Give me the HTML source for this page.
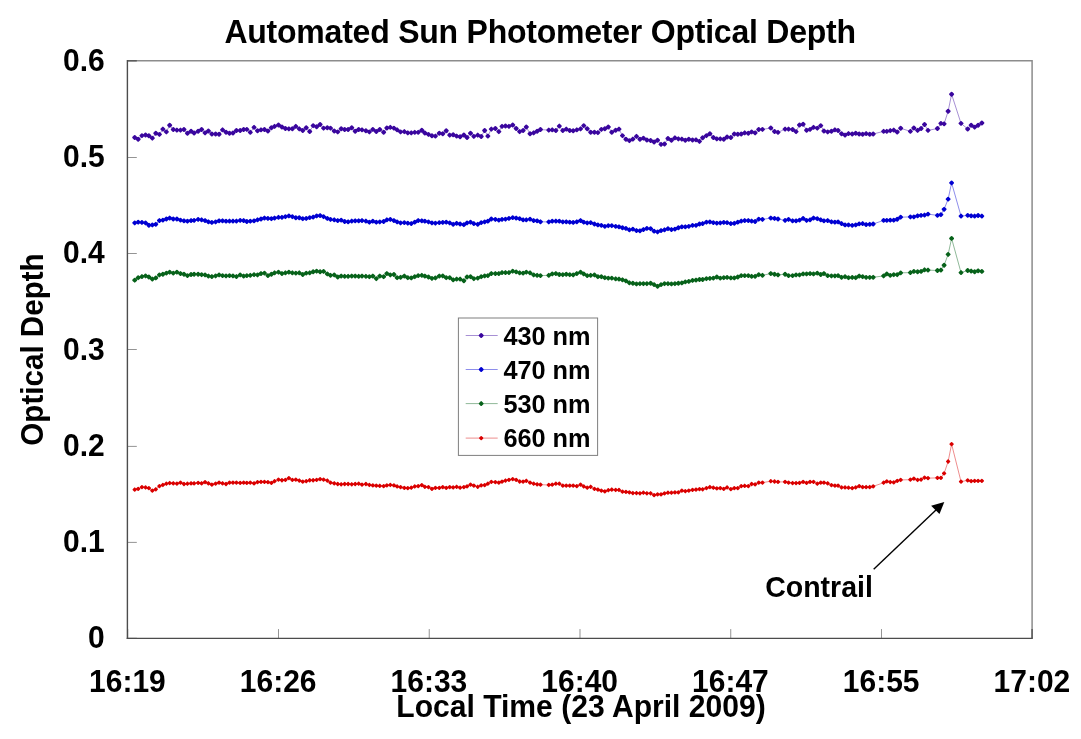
<!DOCTYPE html>
<html><head><meta charset="utf-8"><title>Automated Sun Photometer Optical Depth</title>
<style>html,body{margin:0;padding:0;background:#fff;}svg{display:block;will-change:transform;}text{font-family:"Liberation Sans",sans-serif;font-weight:bold;fill:#000;}</style></head><body>
<svg width="1081" height="739" viewBox="0 0 1081 739">
<rect x="0" y="0" width="1081" height="739" fill="#fff"/>
<path d="M127.4 60.63H1032.1V638.25" fill="none" stroke="#8c8c8c" stroke-width="1.5"/>
<path d="M127.4 638.25h9.4M127.4 542.40h9.4M127.4 446.40h9.4M127.4 349.50h9.4M127.4 253.50h9.4M127.4 157.50h9.4M127.74 638.25v-9.2M278.49 638.25v-9.2M429.24 638.25v-9.2M579.99 638.25v-9.2M730.74 638.25v-9.2M881.49 638.25v-9.2" fill="none" stroke="#8e8e8e" stroke-width="0.95"/>
<path d="M127.4 60.63h9.4M1032.1 638.25v-9.2" fill="none" stroke="#5c5c5c" stroke-width="1.5"/>
<path d="M127.4 59.93V639.05" fill="none" stroke="#4c4c4c" stroke-width="1.4"/>
<path d="M126.7 638.45H1032.8" fill="none" stroke="#4c4c4c" stroke-width="1.2"/>
<path d="M134.71 137.47L138.18 139.27L141.93 135.66L145.54 134.97L148.87 135.8L152.34 138.16L155.8 133.3L159.41 134.41L162.88 129.14L166.35 131.91L169.68 125.25L173.29 129.56L176.9 130.11L180.5 130.11L183.97 129.56L187.44 133.3L191.05 131.22L194.1 133.02L198.13 131.22L201.6 129.56L205.06 132.89L208.4 130.94L211.86 134.0L215.61 134.0L219.08 134.27L222.55 129.83L226.02 132.19L229.49 133.3L232.96 133.02L236.42 130.53L240.17 130.53L243.64 129.56L246.83 129.42L250.3 132.33L254.05 127.34L257.52 130.8L260.99 129.83L264.45 129.56L267.92 130.94L271.39 127.75L274.58 126.36L278.47 124.98L281.94 127.06L285.41 128.45L288.88 128.86L292.35 128.72L295.81 126.36L299.28 128.86L302.75 130.53L306.22 127.75L309.69 131.5L313.16 125.67L316.63 126.78L320.1 124.56L323.57 128.17L327.31 127.75L330.5 128.17L334.25 130.94L337.72 131.91L341.19 128.72L344.66 129.56L348.13 129.56L351.73 127.75L355.2 131.22L358.67 129.56L362.0 129.83L365.89 130.8L369.36 131.91L372.83 129.42L376.3 131.5L379.76 129.56L383.65 132.19L386.84 128.03L390.31 127.34L393.92 128.17L397.11 129.83L400.58 131.91L404.32 131.64L407.79 132.89L411.26 132.89L414.73 132.33L418.2 132.33L421.81 130.25L424.86 133.02L428.47 134.41L431.94 135.8L435.41 136.08L439.29 133.3L442.76 133.72L446.23 130.8L449.7 135.11L453.17 134.69L456.64 136.08L460.11 136.77L463.85 134.97L467.04 137.47L470.51 133.3L473.84 136.36L477.73 135.11L481.2 136.49L484.67 130.53L487.86 136.08L491.33 129.14L495.35 128.45L498.82 131.64L502.01 126.36L505.48 125.95L508.95 126.36L512.7 124.98L516.17 128.45L519.63 131.64L523.1 130.53L526.3 127.06L530.04 133.72L533.65 132.89L537.12 131.22L540.45 129.56L548.77 130.11L552.24 129.83L555.85 130.53L559.32 126.09L562.79 130.53L566.26 129.14L569.73 130.53L573.2 130.8L576.8 129.83L580.55 128.86L583.74 125.67L587.21 128.72L590.68 132.19L594.43 132.19L597.9 132.61L601.36 129.42L604.83 128.72L608.3 127.06L611.77 132.19L615.66 130.25L618.99 129.14L622.46 135.66L625.93 139.27L629.39 140.66L632.86 139.13L636.47 136.36L639.94 139.27L643.41 138.16L646.88 139.96L650.62 140.52L654.09 142.04L657.56 140.24L661.03 144.4L664.5 143.99L667.97 138.44L671.44 140.24L674.91 137.88L678.38 138.85L681.85 139.13L685.31 140.24L688.78 139.27L692.53 139.96L696.0 139.82L699.47 141.35L702.66 137.74L706.41 135.66L709.88 133.72L713.34 137.47L716.81 138.85L720.28 138.85L723.75 139.27L727.08 137.05L730.83 137.47L734.3 134.0L737.77 134.27L741.23 134.0L744.7 132.89L748.31 133.3L751.64 131.91L755.11 132.89L758.72 129.56L762.47 129.42L770.79 128.03L774.54 131.5L778.01 132.33L785.08 129.14L788.55 129.14L792.58 129.56L796.05 131.64L799.51 124.98L803.12 124.28L806.59 130.25L810.06 129.42L813.53 127.34L817.28 128.17L820.74 125.67L823.94 130.94L827.68 131.91L831.43 131.22L834.9 129.83L838.09 130.53L841.56 133.72L845.03 135.11L848.5 133.58L852.24 134.0L855.71 133.3L859.18 134.0L862.65 134.27L866.12 133.58L869.73 134.27L873.2 134.0L883.6 131.33L886.79 131.33L890.26 130.64L893.73 130.08L897.2 132.03L900.67 128.28L910.38 131.33L913.85 128.0L917.6 130.36L921.07 128.56L924.54 124.53L928.01 130.36L937.44 128.56L940.91 123.42L944.1 123.84L948.13 111.21L951.6 94.28L961.03 123.42L967.69 128.97L971.16 125.23L974.63 127.17L978.1 125.23L981.85 123.01" fill="none" stroke="#3a069e" stroke-width="0.6" stroke-opacity="0.75"/>
<path d="M133.21 137.47L134.71 135.97L136.21 137.47L134.71 138.97ZM136.68 139.27L138.18 137.77L139.68 139.27L138.18 140.77ZM140.43 135.66L141.93 134.16L143.43 135.66L141.93 137.16ZM144.04 134.97L145.54 133.47L147.04 134.97L145.54 136.47ZM147.37 135.80L148.87 134.30L150.37 135.80L148.87 137.30ZM150.84 138.16L152.34 136.66L153.84 138.16L152.34 139.66ZM154.30 133.30L155.80 131.80L157.30 133.30L155.80 134.80ZM157.91 134.41L159.41 132.91L160.91 134.41L159.41 135.91ZM161.38 129.14L162.88 127.64L164.38 129.14L162.88 130.64ZM164.85 131.91L166.35 130.41L167.85 131.91L166.35 133.41ZM168.18 125.25L169.68 123.75L171.18 125.25L169.68 126.75ZM171.79 129.56L173.29 128.06L174.79 129.56L173.29 131.06ZM175.40 130.11L176.90 128.61L178.40 130.11L176.90 131.61ZM179.00 130.11L180.50 128.61L182.00 130.11L180.50 131.61ZM182.47 129.56L183.97 128.06L185.47 129.56L183.97 131.06ZM185.94 133.30L187.44 131.80L188.94 133.30L187.44 134.80ZM189.55 131.22L191.05 129.72L192.55 131.22L191.05 132.72ZM192.60 133.02L194.10 131.52L195.60 133.02L194.10 134.52ZM196.63 131.22L198.13 129.72L199.63 131.22L198.13 132.72ZM200.10 129.56L201.60 128.06L203.10 129.56L201.60 131.06ZM203.56 132.89L205.06 131.39L206.56 132.89L205.06 134.39ZM206.90 130.94L208.40 129.44L209.90 130.94L208.40 132.44ZM210.36 134.00L211.86 132.50L213.36 134.00L211.86 135.50ZM214.11 134.00L215.61 132.50L217.11 134.00L215.61 135.50ZM217.58 134.27L219.08 132.77L220.58 134.27L219.08 135.77ZM221.05 129.83L222.55 128.33L224.05 129.83L222.55 131.33ZM224.52 132.19L226.02 130.69L227.52 132.19L226.02 133.69ZM227.99 133.30L229.49 131.80L230.99 133.30L229.49 134.80ZM231.46 133.02L232.96 131.52L234.46 133.02L232.96 134.52ZM234.92 130.53L236.42 129.03L237.92 130.53L236.42 132.03ZM238.67 130.53L240.17 129.03L241.67 130.53L240.17 132.03ZM242.14 129.56L243.64 128.06L245.14 129.56L243.64 131.06ZM245.33 129.42L246.83 127.92L248.33 129.42L246.83 130.92ZM248.80 132.33L250.30 130.83L251.80 132.33L250.30 133.83ZM252.55 127.34L254.05 125.84L255.55 127.34L254.05 128.84ZM256.02 130.80L257.52 129.30L259.02 130.80L257.52 132.30ZM259.49 129.83L260.99 128.33L262.49 129.83L260.99 131.33ZM262.95 129.56L264.45 128.06L265.95 129.56L264.45 131.06ZM266.42 130.94L267.92 129.44L269.42 130.94L267.92 132.44ZM269.89 127.75L271.39 126.25L272.89 127.75L271.39 129.25ZM273.08 126.36L274.58 124.86L276.08 126.36L274.58 127.86ZM276.97 124.98L278.47 123.48L279.97 124.98L278.47 126.48ZM280.44 127.06L281.94 125.56L283.44 127.06L281.94 128.56ZM283.91 128.45L285.41 126.95L286.91 128.45L285.41 129.95ZM287.38 128.86L288.88 127.36L290.38 128.86L288.88 130.36ZM290.85 128.72L292.35 127.22L293.85 128.72L292.35 130.22ZM294.31 126.36L295.81 124.86L297.31 126.36L295.81 127.86ZM297.78 128.86L299.28 127.36L300.78 128.86L299.28 130.36ZM301.25 130.53L302.75 129.03L304.25 130.53L302.75 132.03ZM304.72 127.75L306.22 126.25L307.72 127.75L306.22 129.25ZM308.19 131.50L309.69 130.00L311.19 131.50L309.69 133.00ZM311.66 125.67L313.16 124.17L314.66 125.67L313.16 127.17ZM315.13 126.78L316.63 125.28L318.13 126.78L316.63 128.28ZM318.60 124.56L320.10 123.06L321.60 124.56L320.10 126.06ZM322.07 128.17L323.57 126.67L325.07 128.17L323.57 129.67ZM325.81 127.75L327.31 126.25L328.81 127.75L327.31 129.25ZM329.00 128.17L330.50 126.67L332.00 128.17L330.50 129.67ZM332.75 130.94L334.25 129.44L335.75 130.94L334.25 132.44ZM336.22 131.91L337.72 130.41L339.22 131.91L337.72 133.41ZM339.69 128.72L341.19 127.22L342.69 128.72L341.19 130.22ZM343.16 129.56L344.66 128.06L346.16 129.56L344.66 131.06ZM346.63 129.56L348.13 128.06L349.63 129.56L348.13 131.06ZM350.23 127.75L351.73 126.25L353.23 127.75L351.73 129.25ZM353.70 131.22L355.20 129.72L356.70 131.22L355.20 132.72ZM357.17 129.56L358.67 128.06L360.17 129.56L358.67 131.06ZM360.50 129.83L362.00 128.33L363.50 129.83L362.00 131.33ZM364.39 130.80L365.89 129.30L367.39 130.80L365.89 132.30ZM367.86 131.91L369.36 130.41L370.86 131.91L369.36 133.41ZM371.33 129.42L372.83 127.92L374.33 129.42L372.83 130.92ZM374.80 131.50L376.30 130.00L377.80 131.50L376.30 133.00ZM378.26 129.56L379.76 128.06L381.26 129.56L379.76 131.06ZM382.15 132.19L383.65 130.69L385.15 132.19L383.65 133.69ZM385.34 128.03L386.84 126.53L388.34 128.03L386.84 129.53ZM388.81 127.34L390.31 125.84L391.81 127.34L390.31 128.84ZM392.42 128.17L393.92 126.67L395.42 128.17L393.92 129.67ZM395.61 129.83L397.11 128.33L398.61 129.83L397.11 131.33ZM399.08 131.91L400.58 130.41L402.08 131.91L400.58 133.41ZM402.82 131.64L404.32 130.14L405.82 131.64L404.32 133.14ZM406.29 132.89L407.79 131.39L409.29 132.89L407.79 134.39ZM409.76 132.89L411.26 131.39L412.76 132.89L411.26 134.39ZM413.23 132.33L414.73 130.83L416.23 132.33L414.73 133.83ZM416.70 132.33L418.20 130.83L419.70 132.33L418.20 133.83ZM420.31 130.25L421.81 128.75L423.31 130.25L421.81 131.75ZM423.36 133.02L424.86 131.52L426.36 133.02L424.86 134.52ZM426.97 134.41L428.47 132.91L429.97 134.41L428.47 135.91ZM430.44 135.80L431.94 134.30L433.44 135.80L431.94 137.30ZM433.91 136.08L435.41 134.58L436.91 136.08L435.41 137.58ZM437.79 133.30L439.29 131.80L440.79 133.30L439.29 134.80ZM441.26 133.72L442.76 132.22L444.26 133.72L442.76 135.22ZM444.73 130.80L446.23 129.30L447.73 130.80L446.23 132.30ZM448.20 135.11L449.70 133.61L451.20 135.11L449.70 136.61ZM451.67 134.69L453.17 133.19L454.67 134.69L453.17 136.19ZM455.14 136.08L456.64 134.58L458.14 136.08L456.64 137.58ZM458.61 136.77L460.11 135.27L461.61 136.77L460.11 138.27ZM462.35 134.97L463.85 133.47L465.35 134.97L463.85 136.47ZM465.54 137.47L467.04 135.97L468.54 137.47L467.04 138.97ZM469.01 133.30L470.51 131.80L472.01 133.30L470.51 134.80ZM472.34 136.36L473.84 134.86L475.34 136.36L473.84 137.86ZM476.23 135.11L477.73 133.61L479.23 135.11L477.73 136.61ZM479.70 136.49L481.20 134.99L482.70 136.49L481.20 137.99ZM483.17 130.53L484.67 129.03L486.17 130.53L484.67 132.03ZM486.36 136.08L487.86 134.58L489.36 136.08L487.86 137.58ZM489.83 129.14L491.33 127.64L492.83 129.14L491.33 130.64ZM493.85 128.45L495.35 126.95L496.85 128.45L495.35 129.95ZM497.32 131.64L498.82 130.14L500.32 131.64L498.82 133.14ZM500.51 126.36L502.01 124.86L503.51 126.36L502.01 127.86ZM503.98 125.95L505.48 124.45L506.98 125.95L505.48 127.45ZM507.45 126.36L508.95 124.86L510.45 126.36L508.95 127.86ZM511.20 124.98L512.70 123.48L514.20 124.98L512.70 126.48ZM514.67 128.45L516.17 126.95L517.67 128.45L516.17 129.95ZM518.13 131.64L519.63 130.14L521.13 131.64L519.63 133.14ZM521.60 130.53L523.10 129.03L524.60 130.53L523.10 132.03ZM524.80 127.06L526.30 125.56L527.80 127.06L526.30 128.56ZM528.54 133.72L530.04 132.22L531.54 133.72L530.04 135.22ZM532.15 132.89L533.65 131.39L535.15 132.89L533.65 134.39ZM535.62 131.22L537.12 129.72L538.62 131.22L537.12 132.72ZM538.95 129.56L540.45 128.06L541.95 129.56L540.45 131.06ZM547.27 130.11L548.77 128.61L550.27 130.11L548.77 131.61ZM550.74 129.83L552.24 128.33L553.74 129.83L552.24 131.33ZM554.35 130.53L555.85 129.03L557.35 130.53L555.85 132.03ZM557.82 126.09L559.32 124.59L560.82 126.09L559.32 127.59ZM561.29 130.53L562.79 129.03L564.29 130.53L562.79 132.03ZM564.76 129.14L566.26 127.64L567.76 129.14L566.26 130.64ZM568.23 130.53L569.73 129.03L571.23 130.53L569.73 132.03ZM571.70 130.80L573.20 129.30L574.70 130.80L573.20 132.30ZM575.30 129.83L576.80 128.33L578.30 129.83L576.80 131.33ZM579.05 128.86L580.55 127.36L582.05 128.86L580.55 130.36ZM582.24 125.67L583.74 124.17L585.24 125.67L583.74 127.17ZM585.71 128.72L587.21 127.22L588.71 128.72L587.21 130.22ZM589.18 132.19L590.68 130.69L592.18 132.19L590.68 133.69ZM592.93 132.19L594.43 130.69L595.93 132.19L594.43 133.69ZM596.40 132.61L597.90 131.11L599.40 132.61L597.90 134.11ZM599.86 129.42L601.36 127.92L602.86 129.42L601.36 130.92ZM603.33 128.72L604.83 127.22L606.33 128.72L604.83 130.22ZM606.80 127.06L608.30 125.56L609.80 127.06L608.30 128.56ZM610.27 132.19L611.77 130.69L613.27 132.19L611.77 133.69ZM614.16 130.25L615.66 128.75L617.16 130.25L615.66 131.75ZM617.49 129.14L618.99 127.64L620.49 129.14L618.99 130.64ZM620.96 135.66L622.46 134.16L623.96 135.66L622.46 137.16ZM624.43 139.27L625.93 137.77L627.43 139.27L625.93 140.77ZM627.89 140.66L629.39 139.16L630.89 140.66L629.39 142.16ZM631.36 139.13L632.86 137.63L634.36 139.13L632.86 140.63ZM634.97 136.36L636.47 134.86L637.97 136.36L636.47 137.86ZM638.44 139.27L639.94 137.77L641.44 139.27L639.94 140.77ZM641.91 138.16L643.41 136.66L644.91 138.16L643.41 139.66ZM645.38 139.96L646.88 138.46L648.38 139.96L646.88 141.46ZM649.12 140.52L650.62 139.02L652.12 140.52L650.62 142.02ZM652.59 142.04L654.09 140.54L655.59 142.04L654.09 143.54ZM656.06 140.24L657.56 138.74L659.06 140.24L657.56 141.74ZM659.53 144.40L661.03 142.90L662.53 144.40L661.03 145.90ZM663.00 143.99L664.50 142.49L666.00 143.99L664.50 145.49ZM666.47 138.44L667.97 136.94L669.47 138.44L667.97 139.94ZM669.94 140.24L671.44 138.74L672.94 140.24L671.44 141.74ZM673.41 137.88L674.91 136.38L676.41 137.88L674.91 139.38ZM676.88 138.85L678.38 137.35L679.88 138.85L678.38 140.35ZM680.35 139.13L681.85 137.63L683.35 139.13L681.85 140.63ZM683.81 140.24L685.31 138.74L686.81 140.24L685.31 141.74ZM687.28 139.27L688.78 137.77L690.28 139.27L688.78 140.77ZM691.03 139.96L692.53 138.46L694.03 139.96L692.53 141.46ZM694.50 139.82L696.00 138.32L697.50 139.82L696.00 141.32ZM697.97 141.35L699.47 139.85L700.97 141.35L699.47 142.85ZM701.16 137.74L702.66 136.24L704.16 137.74L702.66 139.24ZM704.91 135.66L706.41 134.16L707.91 135.66L706.41 137.16ZM708.38 133.72L709.88 132.22L711.38 133.72L709.88 135.22ZM711.84 137.47L713.34 135.97L714.84 137.47L713.34 138.97ZM715.31 138.85L716.81 137.35L718.31 138.85L716.81 140.35ZM718.78 138.85L720.28 137.35L721.78 138.85L720.28 140.35ZM722.25 139.27L723.75 137.77L725.25 139.27L723.75 140.77ZM725.58 137.05L727.08 135.55L728.58 137.05L727.08 138.55ZM729.33 137.47L730.83 135.97L732.33 137.47L730.83 138.97ZM732.80 134.00L734.30 132.50L735.80 134.00L734.30 135.50ZM736.27 134.27L737.77 132.77L739.27 134.27L737.77 135.77ZM739.73 134.00L741.23 132.50L742.73 134.00L741.23 135.50ZM743.20 132.89L744.70 131.39L746.20 132.89L744.70 134.39ZM746.81 133.30L748.31 131.80L749.81 133.30L748.31 134.80ZM750.14 131.91L751.64 130.41L753.14 131.91L751.64 133.41ZM753.61 132.89L755.11 131.39L756.61 132.89L755.11 134.39ZM757.22 129.56L758.72 128.06L760.22 129.56L758.72 131.06ZM760.97 129.42L762.47 127.92L763.97 129.42L762.47 130.92ZM769.29 128.03L770.79 126.53L772.29 128.03L770.79 129.53ZM773.04 131.50L774.54 130.00L776.04 131.50L774.54 133.00ZM776.51 132.33L778.01 130.83L779.51 132.33L778.01 133.83ZM783.58 129.14L785.08 127.64L786.58 129.14L785.08 130.64ZM787.05 129.14L788.55 127.64L790.05 129.14L788.55 130.64ZM791.08 129.56L792.58 128.06L794.08 129.56L792.58 131.06ZM794.55 131.64L796.05 130.14L797.55 131.64L796.05 133.14ZM798.01 124.98L799.51 123.48L801.01 124.98L799.51 126.48ZM801.62 124.28L803.12 122.78L804.62 124.28L803.12 125.78ZM805.09 130.25L806.59 128.75L808.09 130.25L806.59 131.75ZM808.56 129.42L810.06 127.92L811.56 129.42L810.06 130.92ZM812.03 127.34L813.53 125.84L815.03 127.34L813.53 128.84ZM815.78 128.17L817.28 126.67L818.78 128.17L817.28 129.67ZM819.24 125.67L820.74 124.17L822.24 125.67L820.74 127.17ZM822.44 130.94L823.94 129.44L825.44 130.94L823.94 132.44ZM826.18 131.91L827.68 130.41L829.18 131.91L827.68 133.41ZM829.93 131.22L831.43 129.72L832.93 131.22L831.43 132.72ZM833.40 129.83L834.90 128.33L836.40 129.83L834.90 131.33ZM836.59 130.53L838.09 129.03L839.59 130.53L838.09 132.03ZM840.06 133.72L841.56 132.22L843.06 133.72L841.56 135.22ZM843.53 135.11L845.03 133.61L846.53 135.11L845.03 136.61ZM847.00 133.58L848.50 132.08L850.00 133.58L848.50 135.08ZM850.74 134.00L852.24 132.50L853.74 134.00L852.24 135.50ZM854.21 133.30L855.71 131.80L857.21 133.30L855.71 134.80ZM857.68 134.00L859.18 132.50L860.68 134.00L859.18 135.50ZM861.15 134.27L862.65 132.77L864.15 134.27L862.65 135.77ZM864.62 133.58L866.12 132.08L867.62 133.58L866.12 135.08ZM868.23 134.27L869.73 132.77L871.23 134.27L869.73 135.77ZM871.70 134.00L873.20 132.50L874.70 134.00L873.20 135.50ZM882.10 131.33L883.60 129.83L885.10 131.33L883.60 132.83ZM885.29 131.33L886.79 129.83L888.29 131.33L886.79 132.83ZM888.76 130.64L890.26 129.14L891.76 130.64L890.26 132.14ZM892.23 130.08L893.73 128.58L895.23 130.08L893.73 131.58ZM895.70 132.03L897.20 130.53L898.70 132.03L897.20 133.53ZM899.17 128.28L900.67 126.78L902.17 128.28L900.67 129.78ZM908.88 131.33L910.38 129.83L911.88 131.33L910.38 132.83ZM912.35 128.00L913.85 126.50L915.35 128.00L913.85 129.50ZM916.10 130.36L917.60 128.86L919.10 130.36L917.60 131.86ZM919.57 128.56L921.07 127.06L922.57 128.56L921.07 130.06ZM923.04 124.53L924.54 123.03L926.04 124.53L924.54 126.03ZM926.51 130.36L928.01 128.86L929.51 130.36L928.01 131.86ZM935.94 128.56L937.44 127.06L938.94 128.56L937.44 130.06ZM939.41 123.42L940.91 121.92L942.41 123.42L940.91 124.92ZM942.60 123.84L944.10 122.34L945.60 123.84L944.10 125.34ZM946.63 111.21L948.13 109.71L949.63 111.21L948.13 112.71ZM950.10 94.28L951.60 92.78L953.10 94.28L951.60 95.78ZM959.53 123.42L961.03 121.92L962.53 123.42L961.03 124.92ZM966.19 128.97L967.69 127.47L969.19 128.97L967.69 130.47ZM969.66 125.23L971.16 123.73L972.66 125.23L971.16 126.73ZM973.13 127.17L974.63 125.67L976.13 127.17L974.63 128.67ZM976.60 125.23L978.10 123.73L979.60 125.23L978.10 126.73ZM980.35 123.01L981.85 121.51L983.35 123.01L981.85 124.51Z" fill="#3a069e" stroke="#3a069e" stroke-width="1.95" stroke-linejoin="round"/>
<path d="M134.71 222.9L138.18 222.2L141.93 222.48L145.54 222.9L148.87 225.25L152.34 224.98L155.8 224.28L159.41 220.54L162.88 220.12L166.35 219.01L169.68 218.04L173.29 219.01L176.9 219.01L180.5 220.12L183.97 220.81L187.44 221.23L191.05 220.54L194.1 220.4L198.13 219.43L201.6 219.84L205.06 220.54L208.4 221.79L211.86 222.48L215.61 221.92L219.08 220.81L222.55 220.81L226.02 221.23L229.49 221.09L232.96 221.09L236.42 221.09L240.17 220.4L243.64 220.54L246.83 221.51L250.3 221.23L254.05 220.81L257.52 219.84L260.99 219.01L264.45 218.04L267.92 218.46L271.39 218.73L274.58 218.04L278.47 217.35L281.94 217.35L285.41 216.65L288.88 215.96L292.35 216.65L295.81 217.76L299.28 217.76L302.75 218.73L306.22 218.46L309.69 217.62L313.16 217.07L316.63 215.96L320.1 215.54L323.57 216.65L327.31 218.46L330.5 219.43L334.25 219.84L337.72 220.54L341.19 220.12L344.66 221.51L348.13 221.79L351.73 221.09L355.2 220.81L358.67 220.81L362.0 220.54L365.89 221.09L369.36 222.2L372.83 221.23L376.3 222.2L379.76 221.92L383.65 221.51L386.84 219.84L390.31 219.43L393.92 220.54L397.11 221.92L400.58 222.9L404.32 222.62L407.79 223.17L411.26 223.59L414.73 222.2L418.2 220.54L421.81 220.81L424.86 221.23L428.47 221.92L431.94 222.9L435.41 223.17L439.29 222.62L442.76 222.48L446.23 222.2L449.7 222.9L453.17 224.28L456.64 223.31L460.11 224.01L463.85 224.7L467.04 222.9L470.51 222.2L473.84 223.59L477.73 224.28L481.2 222.62L484.67 221.92L487.86 221.23L491.33 219.01L495.35 219.43L498.82 220.12L502.01 219.43L505.48 219.15L508.95 218.46L512.7 217.62L516.17 218.04L519.63 218.73L523.1 219.84L526.3 219.84L530.04 219.15L533.65 220.54L537.12 220.81L540.45 221.79L548.77 221.92L552.24 221.23L555.85 221.09L559.32 221.23L562.79 221.92L566.26 221.79L569.73 222.2L573.2 222.48L576.8 221.79L580.55 220.54L583.74 222.2L587.21 222.9L590.68 222.62L594.43 224.01L597.9 224.98L601.36 225.39L604.83 226.36L608.3 225.67L611.77 225.67L615.66 226.36L618.99 226.78L622.46 227.75L625.93 228.45L629.39 229.83L632.86 229.14L636.47 230.53L639.94 230.8L643.41 229.56L646.88 228.45L650.62 228.72L654.09 231.22L657.56 231.91L661.03 230.53L664.5 229.83L667.97 228.72L671.44 229.56L674.91 229.14L678.38 227.75L681.85 226.78L685.31 226.78L688.78 226.36L692.53 225.39L696.0 225.39L699.47 224.01L702.66 223.59L706.41 222.2L709.88 221.92L713.34 222.62L716.81 223.17L720.28 222.9L723.75 222.48L727.08 222.62L730.83 223.59L734.3 223.31L737.77 222.2L741.23 221.09L744.7 220.54L748.31 220.54L751.64 221.09L755.11 221.51L758.72 219.15L762.47 219.43L770.79 218.04L774.54 218.46L778.01 219.01L785.08 220.4L788.55 219.43L792.58 220.81L796.05 220.81L799.51 220.12L803.12 218.46L806.59 220.4L810.06 219.84L813.53 218.04L817.28 218.73L820.74 219.84L823.94 220.81L827.68 220.54L831.43 221.79L834.9 222.2L838.09 221.92L841.56 223.59L845.03 224.98L848.5 224.98L852.24 225.39L855.71 224.98L859.18 223.87L862.65 223.59L866.12 224.56L869.73 224.28L873.2 224.01L883.6 220.37L886.79 220.37L890.26 220.23L893.73 220.23L897.2 219.26L900.67 217.18L910.38 216.9L913.85 216.9L917.6 215.79L921.07 215.37L924.54 215.1L928.01 214.13L937.44 215.37L940.91 214.68L944.1 209.27L948.13 199.14L951.6 182.9L961.03 216.07L967.69 215.37L971.16 215.79L974.63 216.07L978.1 215.51L981.85 216.07" fill="none" stroke="#0000d2" stroke-width="0.6" stroke-opacity="0.75"/>
<path d="M133.26 222.90L134.71 221.45L136.16 222.90L134.71 224.35ZM136.73 222.20L138.18 220.75L139.63 222.20L138.18 223.65ZM140.48 222.48L141.93 221.03L143.38 222.48L141.93 223.93ZM144.09 222.90L145.54 221.45L146.99 222.90L145.54 224.35ZM147.42 225.25L148.87 223.80L150.32 225.25L148.87 226.70ZM150.89 224.98L152.34 223.53L153.79 224.98L152.34 226.43ZM154.35 224.28L155.80 222.83L157.25 224.28L155.80 225.73ZM157.96 220.54L159.41 219.09L160.86 220.54L159.41 221.99ZM161.43 220.12L162.88 218.67L164.33 220.12L162.88 221.57ZM164.90 219.01L166.35 217.56L167.80 219.01L166.35 220.46ZM168.23 218.04L169.68 216.59L171.13 218.04L169.68 219.49ZM171.84 219.01L173.29 217.56L174.74 219.01L173.29 220.46ZM175.45 219.01L176.90 217.56L178.35 219.01L176.90 220.46ZM179.05 220.12L180.50 218.67L181.95 220.12L180.50 221.57ZM182.52 220.81L183.97 219.36L185.42 220.81L183.97 222.26ZM185.99 221.23L187.44 219.78L188.89 221.23L187.44 222.68ZM189.60 220.54L191.05 219.09L192.50 220.54L191.05 221.99ZM192.65 220.40L194.10 218.95L195.55 220.40L194.10 221.85ZM196.68 219.43L198.13 217.98L199.58 219.43L198.13 220.88ZM200.15 219.84L201.60 218.39L203.05 219.84L201.60 221.29ZM203.61 220.54L205.06 219.09L206.51 220.54L205.06 221.99ZM206.95 221.79L208.40 220.34L209.85 221.79L208.40 223.24ZM210.41 222.48L211.86 221.03L213.31 222.48L211.86 223.93ZM214.16 221.92L215.61 220.47L217.06 221.92L215.61 223.37ZM217.63 220.81L219.08 219.36L220.53 220.81L219.08 222.26ZM221.10 220.81L222.55 219.36L224.00 220.81L222.55 222.26ZM224.57 221.23L226.02 219.78L227.47 221.23L226.02 222.68ZM228.04 221.09L229.49 219.64L230.94 221.09L229.49 222.54ZM231.51 221.09L232.96 219.64L234.41 221.09L232.96 222.54ZM234.97 221.09L236.42 219.64L237.87 221.09L236.42 222.54ZM238.72 220.40L240.17 218.95L241.62 220.40L240.17 221.85ZM242.19 220.54L243.64 219.09L245.09 220.54L243.64 221.99ZM245.38 221.51L246.83 220.06L248.28 221.51L246.83 222.96ZM248.85 221.23L250.30 219.78L251.75 221.23L250.30 222.68ZM252.60 220.81L254.05 219.36L255.50 220.81L254.05 222.26ZM256.07 219.84L257.52 218.39L258.97 219.84L257.52 221.29ZM259.54 219.01L260.99 217.56L262.44 219.01L260.99 220.46ZM263.00 218.04L264.45 216.59L265.90 218.04L264.45 219.49ZM266.47 218.46L267.92 217.01L269.37 218.46L267.92 219.91ZM269.94 218.73L271.39 217.28L272.84 218.73L271.39 220.18ZM273.13 218.04L274.58 216.59L276.03 218.04L274.58 219.49ZM277.02 217.35L278.47 215.90L279.92 217.35L278.47 218.80ZM280.49 217.35L281.94 215.90L283.39 217.35L281.94 218.80ZM283.96 216.65L285.41 215.20L286.86 216.65L285.41 218.10ZM287.43 215.96L288.88 214.51L290.33 215.96L288.88 217.41ZM290.90 216.65L292.35 215.20L293.80 216.65L292.35 218.10ZM294.36 217.76L295.81 216.31L297.26 217.76L295.81 219.21ZM297.83 217.76L299.28 216.31L300.73 217.76L299.28 219.21ZM301.30 218.73L302.75 217.28L304.20 218.73L302.75 220.18ZM304.77 218.46L306.22 217.01L307.67 218.46L306.22 219.91ZM308.24 217.62L309.69 216.17L311.14 217.62L309.69 219.07ZM311.71 217.07L313.16 215.62L314.61 217.07L313.16 218.52ZM315.18 215.96L316.63 214.51L318.08 215.96L316.63 217.41ZM318.65 215.54L320.10 214.09L321.55 215.54L320.10 216.99ZM322.12 216.65L323.57 215.20L325.02 216.65L323.57 218.10ZM325.86 218.46L327.31 217.01L328.76 218.46L327.31 219.91ZM329.05 219.43L330.50 217.98L331.95 219.43L330.50 220.88ZM332.80 219.84L334.25 218.39L335.70 219.84L334.25 221.29ZM336.27 220.54L337.72 219.09L339.17 220.54L337.72 221.99ZM339.74 220.12L341.19 218.67L342.64 220.12L341.19 221.57ZM343.21 221.51L344.66 220.06L346.11 221.51L344.66 222.96ZM346.68 221.79L348.13 220.34L349.58 221.79L348.13 223.24ZM350.28 221.09L351.73 219.64L353.18 221.09L351.73 222.54ZM353.75 220.81L355.20 219.36L356.65 220.81L355.20 222.26ZM357.22 220.81L358.67 219.36L360.12 220.81L358.67 222.26ZM360.55 220.54L362.00 219.09L363.45 220.54L362.00 221.99ZM364.44 221.09L365.89 219.64L367.34 221.09L365.89 222.54ZM367.91 222.20L369.36 220.75L370.81 222.20L369.36 223.65ZM371.38 221.23L372.83 219.78L374.28 221.23L372.83 222.68ZM374.85 222.20L376.30 220.75L377.75 222.20L376.30 223.65ZM378.31 221.92L379.76 220.47L381.21 221.92L379.76 223.37ZM382.20 221.51L383.65 220.06L385.10 221.51L383.65 222.96ZM385.39 219.84L386.84 218.39L388.29 219.84L386.84 221.29ZM388.86 219.43L390.31 217.98L391.76 219.43L390.31 220.88ZM392.47 220.54L393.92 219.09L395.37 220.54L393.92 221.99ZM395.66 221.92L397.11 220.47L398.56 221.92L397.11 223.37ZM399.13 222.90L400.58 221.45L402.03 222.90L400.58 224.35ZM402.87 222.62L404.32 221.17L405.77 222.62L404.32 224.07ZM406.34 223.17L407.79 221.72L409.24 223.17L407.79 224.62ZM409.81 223.59L411.26 222.14L412.71 223.59L411.26 225.04ZM413.28 222.20L414.73 220.75L416.18 222.20L414.73 223.65ZM416.75 220.54L418.20 219.09L419.65 220.54L418.20 221.99ZM420.36 220.81L421.81 219.36L423.26 220.81L421.81 222.26ZM423.41 221.23L424.86 219.78L426.31 221.23L424.86 222.68ZM427.02 221.92L428.47 220.47L429.92 221.92L428.47 223.37ZM430.49 222.90L431.94 221.45L433.39 222.90L431.94 224.35ZM433.96 223.17L435.41 221.72L436.86 223.17L435.41 224.62ZM437.84 222.62L439.29 221.17L440.74 222.62L439.29 224.07ZM441.31 222.48L442.76 221.03L444.21 222.48L442.76 223.93ZM444.78 222.20L446.23 220.75L447.68 222.20L446.23 223.65ZM448.25 222.90L449.70 221.45L451.15 222.90L449.70 224.35ZM451.72 224.28L453.17 222.83L454.62 224.28L453.17 225.73ZM455.19 223.31L456.64 221.86L458.09 223.31L456.64 224.76ZM458.66 224.01L460.11 222.56L461.56 224.01L460.11 225.46ZM462.40 224.70L463.85 223.25L465.30 224.70L463.85 226.15ZM465.59 222.90L467.04 221.45L468.49 222.90L467.04 224.35ZM469.06 222.20L470.51 220.75L471.96 222.20L470.51 223.65ZM472.39 223.59L473.84 222.14L475.29 223.59L473.84 225.04ZM476.28 224.28L477.73 222.83L479.18 224.28L477.73 225.73ZM479.75 222.62L481.20 221.17L482.65 222.62L481.20 224.07ZM483.22 221.92L484.67 220.47L486.12 221.92L484.67 223.37ZM486.41 221.23L487.86 219.78L489.31 221.23L487.86 222.68ZM489.88 219.01L491.33 217.56L492.78 219.01L491.33 220.46ZM493.90 219.43L495.35 217.98L496.80 219.43L495.35 220.88ZM497.37 220.12L498.82 218.67L500.27 220.12L498.82 221.57ZM500.56 219.43L502.01 217.98L503.46 219.43L502.01 220.88ZM504.03 219.15L505.48 217.70L506.93 219.15L505.48 220.60ZM507.50 218.46L508.95 217.01L510.40 218.46L508.95 219.91ZM511.25 217.62L512.70 216.17L514.15 217.62L512.70 219.07ZM514.72 218.04L516.17 216.59L517.62 218.04L516.17 219.49ZM518.18 218.73L519.63 217.28L521.08 218.73L519.63 220.18ZM521.65 219.84L523.10 218.39L524.55 219.84L523.10 221.29ZM524.85 219.84L526.30 218.39L527.75 219.84L526.30 221.29ZM528.59 219.15L530.04 217.70L531.49 219.15L530.04 220.60ZM532.20 220.54L533.65 219.09L535.10 220.54L533.65 221.99ZM535.67 220.81L537.12 219.36L538.57 220.81L537.12 222.26ZM539.00 221.79L540.45 220.34L541.90 221.79L540.45 223.24ZM547.32 221.92L548.77 220.47L550.22 221.92L548.77 223.37ZM550.79 221.23L552.24 219.78L553.69 221.23L552.24 222.68ZM554.40 221.09L555.85 219.64L557.30 221.09L555.85 222.54ZM557.87 221.23L559.32 219.78L560.77 221.23L559.32 222.68ZM561.34 221.92L562.79 220.47L564.24 221.92L562.79 223.37ZM564.81 221.79L566.26 220.34L567.71 221.79L566.26 223.24ZM568.28 222.20L569.73 220.75L571.18 222.20L569.73 223.65ZM571.75 222.48L573.20 221.03L574.65 222.48L573.20 223.93ZM575.35 221.79L576.80 220.34L578.25 221.79L576.80 223.24ZM579.10 220.54L580.55 219.09L582.00 220.54L580.55 221.99ZM582.29 222.20L583.74 220.75L585.19 222.20L583.74 223.65ZM585.76 222.90L587.21 221.45L588.66 222.90L587.21 224.35ZM589.23 222.62L590.68 221.17L592.13 222.62L590.68 224.07ZM592.98 224.01L594.43 222.56L595.88 224.01L594.43 225.46ZM596.45 224.98L597.90 223.53L599.35 224.98L597.90 226.43ZM599.91 225.39L601.36 223.94L602.81 225.39L601.36 226.84ZM603.38 226.36L604.83 224.91L606.28 226.36L604.83 227.81ZM606.85 225.67L608.30 224.22L609.75 225.67L608.30 227.12ZM610.32 225.67L611.77 224.22L613.22 225.67L611.77 227.12ZM614.21 226.36L615.66 224.91L617.11 226.36L615.66 227.81ZM617.54 226.78L618.99 225.33L620.44 226.78L618.99 228.23ZM621.01 227.75L622.46 226.30L623.91 227.75L622.46 229.20ZM624.48 228.45L625.93 227.00L627.38 228.45L625.93 229.90ZM627.94 229.83L629.39 228.38L630.84 229.83L629.39 231.28ZM631.41 229.14L632.86 227.69L634.31 229.14L632.86 230.59ZM635.02 230.53L636.47 229.08L637.92 230.53L636.47 231.98ZM638.49 230.80L639.94 229.35L641.39 230.80L639.94 232.25ZM641.96 229.56L643.41 228.11L644.86 229.56L643.41 231.01ZM645.43 228.45L646.88 227.00L648.33 228.45L646.88 229.90ZM649.17 228.72L650.62 227.27L652.07 228.72L650.62 230.17ZM652.64 231.22L654.09 229.77L655.54 231.22L654.09 232.67ZM656.11 231.91L657.56 230.46L659.01 231.91L657.56 233.36ZM659.58 230.53L661.03 229.08L662.48 230.53L661.03 231.98ZM663.05 229.83L664.50 228.38L665.95 229.83L664.50 231.28ZM666.52 228.72L667.97 227.27L669.42 228.72L667.97 230.17ZM669.99 229.56L671.44 228.11L672.89 229.56L671.44 231.01ZM673.46 229.14L674.91 227.69L676.36 229.14L674.91 230.59ZM676.93 227.75L678.38 226.30L679.83 227.75L678.38 229.20ZM680.40 226.78L681.85 225.33L683.30 226.78L681.85 228.23ZM683.86 226.78L685.31 225.33L686.76 226.78L685.31 228.23ZM687.33 226.36L688.78 224.91L690.23 226.36L688.78 227.81ZM691.08 225.39L692.53 223.94L693.98 225.39L692.53 226.84ZM694.55 225.39L696.00 223.94L697.45 225.39L696.00 226.84ZM698.02 224.01L699.47 222.56L700.92 224.01L699.47 225.46ZM701.21 223.59L702.66 222.14L704.11 223.59L702.66 225.04ZM704.96 222.20L706.41 220.75L707.86 222.20L706.41 223.65ZM708.43 221.92L709.88 220.47L711.33 221.92L709.88 223.37ZM711.89 222.62L713.34 221.17L714.79 222.62L713.34 224.07ZM715.36 223.17L716.81 221.72L718.26 223.17L716.81 224.62ZM718.83 222.90L720.28 221.45L721.73 222.90L720.28 224.35ZM722.30 222.48L723.75 221.03L725.20 222.48L723.75 223.93ZM725.63 222.62L727.08 221.17L728.53 222.62L727.08 224.07ZM729.38 223.59L730.83 222.14L732.28 223.59L730.83 225.04ZM732.85 223.31L734.30 221.86L735.75 223.31L734.30 224.76ZM736.32 222.20L737.77 220.75L739.22 222.20L737.77 223.65ZM739.78 221.09L741.23 219.64L742.68 221.09L741.23 222.54ZM743.25 220.54L744.70 219.09L746.15 220.54L744.70 221.99ZM746.86 220.54L748.31 219.09L749.76 220.54L748.31 221.99ZM750.19 221.09L751.64 219.64L753.09 221.09L751.64 222.54ZM753.66 221.51L755.11 220.06L756.56 221.51L755.11 222.96ZM757.27 219.15L758.72 217.70L760.17 219.15L758.72 220.60ZM761.02 219.43L762.47 217.98L763.92 219.43L762.47 220.88ZM769.34 218.04L770.79 216.59L772.24 218.04L770.79 219.49ZM773.09 218.46L774.54 217.01L775.99 218.46L774.54 219.91ZM776.56 219.01L778.01 217.56L779.46 219.01L778.01 220.46ZM783.63 220.40L785.08 218.95L786.53 220.40L785.08 221.85ZM787.10 219.43L788.55 217.98L790.00 219.43L788.55 220.88ZM791.13 220.81L792.58 219.36L794.03 220.81L792.58 222.26ZM794.60 220.81L796.05 219.36L797.50 220.81L796.05 222.26ZM798.06 220.12L799.51 218.67L800.96 220.12L799.51 221.57ZM801.67 218.46L803.12 217.01L804.57 218.46L803.12 219.91ZM805.14 220.40L806.59 218.95L808.04 220.40L806.59 221.85ZM808.61 219.84L810.06 218.39L811.51 219.84L810.06 221.29ZM812.08 218.04L813.53 216.59L814.98 218.04L813.53 219.49ZM815.83 218.73L817.28 217.28L818.73 218.73L817.28 220.18ZM819.29 219.84L820.74 218.39L822.19 219.84L820.74 221.29ZM822.49 220.81L823.94 219.36L825.39 220.81L823.94 222.26ZM826.23 220.54L827.68 219.09L829.13 220.54L827.68 221.99ZM829.98 221.79L831.43 220.34L832.88 221.79L831.43 223.24ZM833.45 222.20L834.90 220.75L836.35 222.20L834.90 223.65ZM836.64 221.92L838.09 220.47L839.54 221.92L838.09 223.37ZM840.11 223.59L841.56 222.14L843.01 223.59L841.56 225.04ZM843.58 224.98L845.03 223.53L846.48 224.98L845.03 226.43ZM847.05 224.98L848.50 223.53L849.95 224.98L848.50 226.43ZM850.79 225.39L852.24 223.94L853.69 225.39L852.24 226.84ZM854.26 224.98L855.71 223.53L857.16 224.98L855.71 226.43ZM857.73 223.87L859.18 222.42L860.63 223.87L859.18 225.32ZM861.20 223.59L862.65 222.14L864.10 223.59L862.65 225.04ZM864.67 224.56L866.12 223.11L867.57 224.56L866.12 226.01ZM868.28 224.28L869.73 222.83L871.18 224.28L869.73 225.73ZM871.75 224.01L873.20 222.56L874.65 224.01L873.20 225.46ZM882.15 220.37L883.60 218.92L885.05 220.37L883.60 221.82ZM885.34 220.37L886.79 218.92L888.24 220.37L886.79 221.82ZM888.81 220.23L890.26 218.78L891.71 220.23L890.26 221.68ZM892.28 220.23L893.73 218.78L895.18 220.23L893.73 221.68ZM895.75 219.26L897.20 217.81L898.65 219.26L897.20 220.71ZM899.22 217.18L900.67 215.73L902.12 217.18L900.67 218.63ZM908.93 216.90L910.38 215.45L911.83 216.90L910.38 218.35ZM912.40 216.90L913.85 215.45L915.30 216.90L913.85 218.35ZM916.15 215.79L917.60 214.34L919.05 215.79L917.60 217.24ZM919.62 215.37L921.07 213.92L922.52 215.37L921.07 216.82ZM923.09 215.10L924.54 213.65L925.99 215.10L924.54 216.55ZM926.56 214.13L928.01 212.68L929.46 214.13L928.01 215.58ZM935.99 215.37L937.44 213.92L938.89 215.37L937.44 216.82ZM939.46 214.68L940.91 213.23L942.36 214.68L940.91 216.13ZM942.65 209.27L944.10 207.82L945.55 209.27L944.10 210.72ZM946.68 199.14L948.13 197.69L949.58 199.14L948.13 200.59ZM950.15 182.90L951.60 181.45L953.05 182.90L951.60 184.35ZM959.58 216.07L961.03 214.62L962.48 216.07L961.03 217.52ZM966.24 215.37L967.69 213.92L969.14 215.37L967.69 216.82ZM969.71 215.79L971.16 214.34L972.61 215.79L971.16 217.24ZM973.18 216.07L974.63 214.62L976.08 216.07L974.63 217.52ZM976.65 215.51L978.10 214.06L979.55 215.51L978.10 216.96ZM980.40 216.07L981.85 214.62L983.30 216.07L981.85 217.52Z" fill="#0000d2" stroke="#0000d2" stroke-width="1.95" stroke-linejoin="round"/>
<path d="M134.71 280.2L138.18 277.71L141.93 276.6L145.54 275.9L148.87 277.01L152.34 279.09L155.8 277.98L159.41 274.93L162.88 274.24L166.35 273.13L169.68 272.16L173.29 273.13L176.9 272.16L180.5 273.54L183.97 274.24L187.44 275.62L191.05 274.51L194.1 274.24L198.13 274.24L201.6 274.65L205.06 274.93L208.4 276.04L211.86 276.6L215.61 275.9L219.08 274.93L222.55 275.62L226.02 275.9L229.49 275.62L232.96 275.9L236.42 276.6L240.17 274.93L243.64 276.04L246.83 275.62L250.3 275.35L254.05 274.65L257.52 274.93L260.99 273.54L264.45 273.13L267.92 275.62L271.39 274.24L274.58 272.85L278.47 272.16L281.94 273.54L285.41 272.85L288.88 272.16L292.35 272.85L295.81 273.13L299.28 272.85L302.75 274.51L306.22 273.13L309.69 272.85L313.16 271.74L316.63 271.18L320.1 271.74L323.57 271.46L327.31 273.96L330.5 275.35L334.25 274.93L337.72 277.01L341.19 276.04L344.66 276.32L348.13 276.32L351.73 276.04L355.2 276.04L358.67 276.32L362.0 276.04L365.89 276.32L369.36 276.73L372.83 276.04L376.3 278.68L379.76 276.04L383.65 276.73L386.84 273.54L390.31 274.93L393.92 274.51L397.11 277.71L400.58 277.29L404.32 276.04L407.79 277.71L411.26 277.98L414.73 276.73L418.2 275.62L421.81 275.35L424.86 276.04L428.47 277.01L431.94 278.4L435.41 277.98L439.29 276.04L442.76 275.9L446.23 277.71L449.7 277.71L453.17 279.79L456.64 279.09L460.11 279.09L463.85 280.76L467.04 277.01L470.51 276.73L473.84 278.68L477.73 278.12L481.2 276.73L484.67 275.9L487.86 275.62L491.33 273.54L495.35 273.54L498.82 273.54L502.01 272.57L505.48 272.57L508.95 272.57L512.7 271.18L516.17 271.88L519.63 272.85L523.1 273.13L526.3 272.16L530.04 272.85L533.65 274.93L537.12 275.35L540.45 275.62L548.77 275.35L552.24 273.96L555.85 273.54L559.32 274.51L562.79 274.65L566.26 274.24L569.73 274.65L573.2 274.93L576.8 273.54L580.55 272.16L583.74 273.96L587.21 275.62L590.68 275.35L594.43 274.93L597.9 276.73L601.36 276.73L604.83 277.71L608.3 278.12L611.77 278.12L615.66 278.82L618.99 279.09L622.46 279.79L625.93 280.9L629.39 282.84L632.86 283.26L636.47 283.95L639.94 283.67L643.41 283.67L646.88 283.67L650.62 283.26L654.09 284.64L657.56 286.31L661.03 284.64L664.5 283.67L667.97 283.67L671.44 283.95L674.91 283.67L678.38 283.26L681.85 282.98L685.31 281.87L688.78 281.45L692.53 280.48L696.0 280.06L699.47 279.51L702.66 279.51L706.41 278.68L709.88 278.4L713.34 278.12L716.81 277.01L720.28 278.12L723.75 277.71L727.08 277.43L730.83 277.98L734.3 277.98L737.77 277.01L741.23 275.62L744.7 275.62L748.31 275.62L751.64 276.32L755.11 276.32L758.72 274.65L762.47 275.35L770.79 273.54L774.54 274.24L778.01 274.93L785.08 274.24L788.55 275.62L792.58 275.62L796.05 274.93L799.51 274.93L803.12 273.96L806.59 273.96L810.06 273.54L813.53 273.96L817.28 273.13L820.74 274.51L823.94 273.54L827.68 275.62L831.43 275.9L834.9 275.9L838.09 275.62L841.56 277.29L845.03 276.73L848.5 277.71L852.24 277.43L855.71 277.71L859.18 276.04L862.65 276.73L866.12 277.43L869.73 277.43L873.2 277.29L883.6 275.93L886.79 273.98L890.26 275.37L893.73 274.68L897.2 274.68L900.67 272.87L910.38 272.59L913.85 271.48L917.6 271.76L921.07 271.48L924.54 269.82L928.01 270.1L937.44 270.51L940.91 270.1L944.1 265.24L948.13 254.42L951.6 238.46L961.03 272.59L967.69 270.51L971.16 271.07L974.63 271.76L978.1 270.79L981.85 271.48" fill="none" stroke="#07621a" stroke-width="0.6" stroke-opacity="0.75"/>
<path d="M133.26 280.20L134.71 278.75L136.16 280.20L134.71 281.65ZM136.73 277.71L138.18 276.26L139.63 277.71L138.18 279.16ZM140.48 276.60L141.93 275.15L143.38 276.60L141.93 278.05ZM144.09 275.90L145.54 274.45L146.99 275.90L145.54 277.35ZM147.42 277.01L148.87 275.56L150.32 277.01L148.87 278.46ZM150.89 279.09L152.34 277.64L153.79 279.09L152.34 280.54ZM154.35 277.98L155.80 276.53L157.25 277.98L155.80 279.43ZM157.96 274.93L159.41 273.48L160.86 274.93L159.41 276.38ZM161.43 274.24L162.88 272.79L164.33 274.24L162.88 275.69ZM164.90 273.13L166.35 271.68L167.80 273.13L166.35 274.58ZM168.23 272.16L169.68 270.71L171.13 272.16L169.68 273.61ZM171.84 273.13L173.29 271.68L174.74 273.13L173.29 274.58ZM175.45 272.16L176.90 270.71L178.35 272.16L176.90 273.61ZM179.05 273.54L180.50 272.09L181.95 273.54L180.50 274.99ZM182.52 274.24L183.97 272.79L185.42 274.24L183.97 275.69ZM185.99 275.62L187.44 274.17L188.89 275.62L187.44 277.07ZM189.60 274.51L191.05 273.06L192.50 274.51L191.05 275.96ZM192.65 274.24L194.10 272.79L195.55 274.24L194.10 275.69ZM196.68 274.24L198.13 272.79L199.58 274.24L198.13 275.69ZM200.15 274.65L201.60 273.20L203.05 274.65L201.60 276.10ZM203.61 274.93L205.06 273.48L206.51 274.93L205.06 276.38ZM206.95 276.04L208.40 274.59L209.85 276.04L208.40 277.49ZM210.41 276.60L211.86 275.15L213.31 276.60L211.86 278.05ZM214.16 275.90L215.61 274.45L217.06 275.90L215.61 277.35ZM217.63 274.93L219.08 273.48L220.53 274.93L219.08 276.38ZM221.10 275.62L222.55 274.17L224.00 275.62L222.55 277.07ZM224.57 275.90L226.02 274.45L227.47 275.90L226.02 277.35ZM228.04 275.62L229.49 274.17L230.94 275.62L229.49 277.07ZM231.51 275.90L232.96 274.45L234.41 275.90L232.96 277.35ZM234.97 276.60L236.42 275.15L237.87 276.60L236.42 278.05ZM238.72 274.93L240.17 273.48L241.62 274.93L240.17 276.38ZM242.19 276.04L243.64 274.59L245.09 276.04L243.64 277.49ZM245.38 275.62L246.83 274.17L248.28 275.62L246.83 277.07ZM248.85 275.35L250.30 273.90L251.75 275.35L250.30 276.80ZM252.60 274.65L254.05 273.20L255.50 274.65L254.05 276.10ZM256.07 274.93L257.52 273.48L258.97 274.93L257.52 276.38ZM259.54 273.54L260.99 272.09L262.44 273.54L260.99 274.99ZM263.00 273.13L264.45 271.68L265.90 273.13L264.45 274.58ZM266.47 275.62L267.92 274.17L269.37 275.62L267.92 277.07ZM269.94 274.24L271.39 272.79L272.84 274.24L271.39 275.69ZM273.13 272.85L274.58 271.40L276.03 272.85L274.58 274.30ZM277.02 272.16L278.47 270.71L279.92 272.16L278.47 273.61ZM280.49 273.54L281.94 272.09L283.39 273.54L281.94 274.99ZM283.96 272.85L285.41 271.40L286.86 272.85L285.41 274.30ZM287.43 272.16L288.88 270.71L290.33 272.16L288.88 273.61ZM290.90 272.85L292.35 271.40L293.80 272.85L292.35 274.30ZM294.36 273.13L295.81 271.68L297.26 273.13L295.81 274.58ZM297.83 272.85L299.28 271.40L300.73 272.85L299.28 274.30ZM301.30 274.51L302.75 273.06L304.20 274.51L302.75 275.96ZM304.77 273.13L306.22 271.68L307.67 273.13L306.22 274.58ZM308.24 272.85L309.69 271.40L311.14 272.85L309.69 274.30ZM311.71 271.74L313.16 270.29L314.61 271.74L313.16 273.19ZM315.18 271.18L316.63 269.73L318.08 271.18L316.63 272.63ZM318.65 271.74L320.10 270.29L321.55 271.74L320.10 273.19ZM322.12 271.46L323.57 270.01L325.02 271.46L323.57 272.91ZM325.86 273.96L327.31 272.51L328.76 273.96L327.31 275.41ZM329.05 275.35L330.50 273.90L331.95 275.35L330.50 276.80ZM332.80 274.93L334.25 273.48L335.70 274.93L334.25 276.38ZM336.27 277.01L337.72 275.56L339.17 277.01L337.72 278.46ZM339.74 276.04L341.19 274.59L342.64 276.04L341.19 277.49ZM343.21 276.32L344.66 274.87L346.11 276.32L344.66 277.77ZM346.68 276.32L348.13 274.87L349.58 276.32L348.13 277.77ZM350.28 276.04L351.73 274.59L353.18 276.04L351.73 277.49ZM353.75 276.04L355.20 274.59L356.65 276.04L355.20 277.49ZM357.22 276.32L358.67 274.87L360.12 276.32L358.67 277.77ZM360.55 276.04L362.00 274.59L363.45 276.04L362.00 277.49ZM364.44 276.32L365.89 274.87L367.34 276.32L365.89 277.77ZM367.91 276.73L369.36 275.28L370.81 276.73L369.36 278.18ZM371.38 276.04L372.83 274.59L374.28 276.04L372.83 277.49ZM374.85 278.68L376.30 277.23L377.75 278.68L376.30 280.13ZM378.31 276.04L379.76 274.59L381.21 276.04L379.76 277.49ZM382.20 276.73L383.65 275.28L385.10 276.73L383.65 278.18ZM385.39 273.54L386.84 272.09L388.29 273.54L386.84 274.99ZM388.86 274.93L390.31 273.48L391.76 274.93L390.31 276.38ZM392.47 274.51L393.92 273.06L395.37 274.51L393.92 275.96ZM395.66 277.71L397.11 276.26L398.56 277.71L397.11 279.16ZM399.13 277.29L400.58 275.84L402.03 277.29L400.58 278.74ZM402.87 276.04L404.32 274.59L405.77 276.04L404.32 277.49ZM406.34 277.71L407.79 276.26L409.24 277.71L407.79 279.16ZM409.81 277.98L411.26 276.53L412.71 277.98L411.26 279.43ZM413.28 276.73L414.73 275.28L416.18 276.73L414.73 278.18ZM416.75 275.62L418.20 274.17L419.65 275.62L418.20 277.07ZM420.36 275.35L421.81 273.90L423.26 275.35L421.81 276.80ZM423.41 276.04L424.86 274.59L426.31 276.04L424.86 277.49ZM427.02 277.01L428.47 275.56L429.92 277.01L428.47 278.46ZM430.49 278.40L431.94 276.95L433.39 278.40L431.94 279.85ZM433.96 277.98L435.41 276.53L436.86 277.98L435.41 279.43ZM437.84 276.04L439.29 274.59L440.74 276.04L439.29 277.49ZM441.31 275.90L442.76 274.45L444.21 275.90L442.76 277.35ZM444.78 277.71L446.23 276.26L447.68 277.71L446.23 279.16ZM448.25 277.71L449.70 276.26L451.15 277.71L449.70 279.16ZM451.72 279.79L453.17 278.34L454.62 279.79L453.17 281.24ZM455.19 279.09L456.64 277.64L458.09 279.09L456.64 280.54ZM458.66 279.09L460.11 277.64L461.56 279.09L460.11 280.54ZM462.40 280.76L463.85 279.31L465.30 280.76L463.85 282.21ZM465.59 277.01L467.04 275.56L468.49 277.01L467.04 278.46ZM469.06 276.73L470.51 275.28L471.96 276.73L470.51 278.18ZM472.39 278.68L473.84 277.23L475.29 278.68L473.84 280.13ZM476.28 278.12L477.73 276.67L479.18 278.12L477.73 279.57ZM479.75 276.73L481.20 275.28L482.65 276.73L481.20 278.18ZM483.22 275.90L484.67 274.45L486.12 275.90L484.67 277.35ZM486.41 275.62L487.86 274.17L489.31 275.62L487.86 277.07ZM489.88 273.54L491.33 272.09L492.78 273.54L491.33 274.99ZM493.90 273.54L495.35 272.09L496.80 273.54L495.35 274.99ZM497.37 273.54L498.82 272.09L500.27 273.54L498.82 274.99ZM500.56 272.57L502.01 271.12L503.46 272.57L502.01 274.02ZM504.03 272.57L505.48 271.12L506.93 272.57L505.48 274.02ZM507.50 272.57L508.95 271.12L510.40 272.57L508.95 274.02ZM511.25 271.18L512.70 269.73L514.15 271.18L512.70 272.63ZM514.72 271.88L516.17 270.43L517.62 271.88L516.17 273.33ZM518.18 272.85L519.63 271.40L521.08 272.85L519.63 274.30ZM521.65 273.13L523.10 271.68L524.55 273.13L523.10 274.58ZM524.85 272.16L526.30 270.71L527.75 272.16L526.30 273.61ZM528.59 272.85L530.04 271.40L531.49 272.85L530.04 274.30ZM532.20 274.93L533.65 273.48L535.10 274.93L533.65 276.38ZM535.67 275.35L537.12 273.90L538.57 275.35L537.12 276.80ZM539.00 275.62L540.45 274.17L541.90 275.62L540.45 277.07ZM547.32 275.35L548.77 273.90L550.22 275.35L548.77 276.80ZM550.79 273.96L552.24 272.51L553.69 273.96L552.24 275.41ZM554.40 273.54L555.85 272.09L557.30 273.54L555.85 274.99ZM557.87 274.51L559.32 273.06L560.77 274.51L559.32 275.96ZM561.34 274.65L562.79 273.20L564.24 274.65L562.79 276.10ZM564.81 274.24L566.26 272.79L567.71 274.24L566.26 275.69ZM568.28 274.65L569.73 273.20L571.18 274.65L569.73 276.10ZM571.75 274.93L573.20 273.48L574.65 274.93L573.20 276.38ZM575.35 273.54L576.80 272.09L578.25 273.54L576.80 274.99ZM579.10 272.16L580.55 270.71L582.00 272.16L580.55 273.61ZM582.29 273.96L583.74 272.51L585.19 273.96L583.74 275.41ZM585.76 275.62L587.21 274.17L588.66 275.62L587.21 277.07ZM589.23 275.35L590.68 273.90L592.13 275.35L590.68 276.80ZM592.98 274.93L594.43 273.48L595.88 274.93L594.43 276.38ZM596.45 276.73L597.90 275.28L599.35 276.73L597.90 278.18ZM599.91 276.73L601.36 275.28L602.81 276.73L601.36 278.18ZM603.38 277.71L604.83 276.26L606.28 277.71L604.83 279.16ZM606.85 278.12L608.30 276.67L609.75 278.12L608.30 279.57ZM610.32 278.12L611.77 276.67L613.22 278.12L611.77 279.57ZM614.21 278.82L615.66 277.37L617.11 278.82L615.66 280.27ZM617.54 279.09L618.99 277.64L620.44 279.09L618.99 280.54ZM621.01 279.79L622.46 278.34L623.91 279.79L622.46 281.24ZM624.48 280.90L625.93 279.45L627.38 280.90L625.93 282.35ZM627.94 282.84L629.39 281.39L630.84 282.84L629.39 284.29ZM631.41 283.26L632.86 281.81L634.31 283.26L632.86 284.71ZM635.02 283.95L636.47 282.50L637.92 283.95L636.47 285.40ZM638.49 283.67L639.94 282.22L641.39 283.67L639.94 285.12ZM641.96 283.67L643.41 282.22L644.86 283.67L643.41 285.12ZM645.43 283.67L646.88 282.22L648.33 283.67L646.88 285.12ZM649.17 283.26L650.62 281.81L652.07 283.26L650.62 284.71ZM652.64 284.64L654.09 283.19L655.54 284.64L654.09 286.09ZM656.11 286.31L657.56 284.86L659.01 286.31L657.56 287.76ZM659.58 284.64L661.03 283.19L662.48 284.64L661.03 286.09ZM663.05 283.67L664.50 282.22L665.95 283.67L664.50 285.12ZM666.52 283.67L667.97 282.22L669.42 283.67L667.97 285.12ZM669.99 283.95L671.44 282.50L672.89 283.95L671.44 285.40ZM673.46 283.67L674.91 282.22L676.36 283.67L674.91 285.12ZM676.93 283.26L678.38 281.81L679.83 283.26L678.38 284.71ZM680.40 282.98L681.85 281.53L683.30 282.98L681.85 284.43ZM683.86 281.87L685.31 280.42L686.76 281.87L685.31 283.32ZM687.33 281.45L688.78 280.00L690.23 281.45L688.78 282.90ZM691.08 280.48L692.53 279.03L693.98 280.48L692.53 281.93ZM694.55 280.06L696.00 278.61L697.45 280.06L696.00 281.51ZM698.02 279.51L699.47 278.06L700.92 279.51L699.47 280.96ZM701.21 279.51L702.66 278.06L704.11 279.51L702.66 280.96ZM704.96 278.68L706.41 277.23L707.86 278.68L706.41 280.13ZM708.43 278.40L709.88 276.95L711.33 278.40L709.88 279.85ZM711.89 278.12L713.34 276.67L714.79 278.12L713.34 279.57ZM715.36 277.01L716.81 275.56L718.26 277.01L716.81 278.46ZM718.83 278.12L720.28 276.67L721.73 278.12L720.28 279.57ZM722.30 277.71L723.75 276.26L725.20 277.71L723.75 279.16ZM725.63 277.43L727.08 275.98L728.53 277.43L727.08 278.88ZM729.38 277.98L730.83 276.53L732.28 277.98L730.83 279.43ZM732.85 277.98L734.30 276.53L735.75 277.98L734.30 279.43ZM736.32 277.01L737.77 275.56L739.22 277.01L737.77 278.46ZM739.78 275.62L741.23 274.17L742.68 275.62L741.23 277.07ZM743.25 275.62L744.70 274.17L746.15 275.62L744.70 277.07ZM746.86 275.62L748.31 274.17L749.76 275.62L748.31 277.07ZM750.19 276.32L751.64 274.87L753.09 276.32L751.64 277.77ZM753.66 276.32L755.11 274.87L756.56 276.32L755.11 277.77ZM757.27 274.65L758.72 273.20L760.17 274.65L758.72 276.10ZM761.02 275.35L762.47 273.90L763.92 275.35L762.47 276.80ZM769.34 273.54L770.79 272.09L772.24 273.54L770.79 274.99ZM773.09 274.24L774.54 272.79L775.99 274.24L774.54 275.69ZM776.56 274.93L778.01 273.48L779.46 274.93L778.01 276.38ZM783.63 274.24L785.08 272.79L786.53 274.24L785.08 275.69ZM787.10 275.62L788.55 274.17L790.00 275.62L788.55 277.07ZM791.13 275.62L792.58 274.17L794.03 275.62L792.58 277.07ZM794.60 274.93L796.05 273.48L797.50 274.93L796.05 276.38ZM798.06 274.93L799.51 273.48L800.96 274.93L799.51 276.38ZM801.67 273.96L803.12 272.51L804.57 273.96L803.12 275.41ZM805.14 273.96L806.59 272.51L808.04 273.96L806.59 275.41ZM808.61 273.54L810.06 272.09L811.51 273.54L810.06 274.99ZM812.08 273.96L813.53 272.51L814.98 273.96L813.53 275.41ZM815.83 273.13L817.28 271.68L818.73 273.13L817.28 274.58ZM819.29 274.51L820.74 273.06L822.19 274.51L820.74 275.96ZM822.49 273.54L823.94 272.09L825.39 273.54L823.94 274.99ZM826.23 275.62L827.68 274.17L829.13 275.62L827.68 277.07ZM829.98 275.90L831.43 274.45L832.88 275.90L831.43 277.35ZM833.45 275.90L834.90 274.45L836.35 275.90L834.90 277.35ZM836.64 275.62L838.09 274.17L839.54 275.62L838.09 277.07ZM840.11 277.29L841.56 275.84L843.01 277.29L841.56 278.74ZM843.58 276.73L845.03 275.28L846.48 276.73L845.03 278.18ZM847.05 277.71L848.50 276.26L849.95 277.71L848.50 279.16ZM850.79 277.43L852.24 275.98L853.69 277.43L852.24 278.88ZM854.26 277.71L855.71 276.26L857.16 277.71L855.71 279.16ZM857.73 276.04L859.18 274.59L860.63 276.04L859.18 277.49ZM861.20 276.73L862.65 275.28L864.10 276.73L862.65 278.18ZM864.67 277.43L866.12 275.98L867.57 277.43L866.12 278.88ZM868.28 277.43L869.73 275.98L871.18 277.43L869.73 278.88ZM871.75 277.29L873.20 275.84L874.65 277.29L873.20 278.74ZM882.15 275.93L883.60 274.48L885.05 275.93L883.60 277.38ZM885.34 273.98L886.79 272.53L888.24 273.98L886.79 275.43ZM888.81 275.37L890.26 273.92L891.71 275.37L890.26 276.82ZM892.28 274.68L893.73 273.23L895.18 274.68L893.73 276.13ZM895.75 274.68L897.20 273.23L898.65 274.68L897.20 276.13ZM899.22 272.87L900.67 271.42L902.12 272.87L900.67 274.32ZM908.93 272.59L910.38 271.14L911.83 272.59L910.38 274.04ZM912.40 271.48L913.85 270.03L915.30 271.48L913.85 272.93ZM916.15 271.76L917.60 270.31L919.05 271.76L917.60 273.21ZM919.62 271.48L921.07 270.03L922.52 271.48L921.07 272.93ZM923.09 269.82L924.54 268.37L925.99 269.82L924.54 271.27ZM926.56 270.10L928.01 268.65L929.46 270.10L928.01 271.55ZM935.99 270.51L937.44 269.06L938.89 270.51L937.44 271.96ZM939.46 270.10L940.91 268.65L942.36 270.10L940.91 271.55ZM942.65 265.24L944.10 263.79L945.55 265.24L944.10 266.69ZM946.68 254.42L948.13 252.97L949.58 254.42L948.13 255.87ZM950.15 238.46L951.60 237.01L953.05 238.46L951.60 239.91ZM959.58 272.59L961.03 271.14L962.48 272.59L961.03 274.04ZM966.24 270.51L967.69 269.06L969.14 270.51L967.69 271.96ZM969.71 271.07L971.16 269.62L972.61 271.07L971.16 272.52ZM973.18 271.76L974.63 270.31L976.08 271.76L974.63 273.21ZM976.65 270.79L978.10 269.34L979.55 270.79L978.10 272.24ZM980.40 271.48L981.85 270.03L983.30 271.48L981.85 272.93Z" fill="#07621a" stroke="#07621a" stroke-width="1.95" stroke-linejoin="round"/>
<path d="M134.71 489.55L138.18 488.85L141.93 487.19L145.54 487.47L148.87 488.16L152.34 490.66L155.8 489.27L159.41 486.08L162.88 484.97L166.35 483.72L169.68 483.02L173.29 483.3L176.9 483.58L180.5 482.61L183.97 484.0L187.44 483.72L191.05 483.3L194.1 483.3L198.13 482.89L201.6 483.3L205.06 482.19L208.4 483.3L211.86 484.69L215.61 483.58L219.08 482.61L222.55 483.3L226.02 484.0L229.49 482.61L232.96 482.61L236.42 482.61L240.17 482.89L243.64 482.61L246.83 482.89L250.3 482.61L254.05 483.3L257.52 482.19L260.99 481.91L264.45 481.91L267.92 482.19L271.39 482.89L274.58 481.22L278.47 479.56L281.94 480.25L285.41 479.83L288.88 478.17L292.35 479.83L295.81 479.56L299.28 480.53L302.75 481.64L306.22 481.22L309.69 480.25L313.16 480.25L316.63 479.83L320.1 479.14L323.57 479.56L327.31 480.53L330.5 482.61L334.25 483.3L337.72 484.0L341.19 484.27L344.66 484.0L348.13 484.0L351.73 484.27L355.2 484.0L358.67 483.72L362.0 484.69L365.89 484.0L369.36 484.97L372.83 485.38L376.3 485.66L379.76 485.8L383.65 486.08L386.84 485.38L390.31 484.97L393.92 485.38L397.11 486.49L400.58 487.19L404.32 487.88L407.79 488.16L411.26 487.74L414.73 486.49L418.2 486.08L421.81 485.11L424.86 486.77L428.47 487.19L431.94 488.85L435.41 487.88L439.29 487.88L442.76 487.19L446.23 487.88L449.7 487.19L453.17 487.47L456.64 486.77L460.11 487.74L463.85 487.19L467.04 486.36L470.51 484.69L473.84 485.66L477.73 486.77L481.2 485.38L484.67 485.11L487.86 483.72L491.33 481.91L495.35 482.19L498.82 482.61L502.01 481.64L505.48 480.53L508.95 479.83L512.7 479.14L516.17 479.83L519.63 481.5L523.1 481.64L526.3 480.8L530.04 482.61L533.65 483.72L537.12 484.27L540.45 484.69L548.77 484.97L552.24 484.69L555.85 483.72L559.32 483.72L562.79 485.66L566.26 485.66L569.73 485.66L573.2 485.66L576.8 486.08L580.55 484.69L583.74 486.49L587.21 487.74L590.68 486.77L594.43 488.85L597.9 489.55L601.36 490.66L604.83 491.35L608.3 490.24L611.77 489.55L615.66 489.96L618.99 489.96L622.46 491.63L625.93 491.91L629.39 492.32L632.86 493.02L636.47 493.02L639.94 493.29L643.41 492.74L646.88 493.29L650.62 493.29L654.09 495.1L657.56 494.4L661.03 494.4L664.5 493.43L667.97 492.74L671.44 492.74L674.91 492.32L678.38 492.32L681.85 490.66L685.31 491.21L688.78 490.66L692.53 489.82L696.0 489.55L699.47 489.13L702.66 489.27L706.41 488.16L709.88 487.05L713.34 487.74L716.81 488.44L720.28 488.16L723.75 488.85L727.08 487.47L730.83 489.13L734.3 488.16L737.77 488.16L741.23 486.08L744.7 485.8L748.31 486.08L751.64 484.0L755.11 484.41L758.72 482.61L762.47 482.61L770.79 481.22L774.54 481.5L778.01 481.91L785.08 481.91L788.55 482.61L792.58 483.02L796.05 483.02L799.51 482.89L803.12 481.91L806.59 482.89L810.06 481.91L813.53 481.91L817.28 483.72L820.74 482.61L823.94 482.61L827.68 483.3L831.43 485.11L834.9 485.66L838.09 485.66L841.56 487.47L845.03 487.47L848.5 487.74L852.24 488.16L855.71 487.47L859.18 486.08L862.65 487.05L866.12 487.05L869.73 487.05L873.2 486.36L883.6 482.73L886.79 481.34L890.26 482.04L893.73 482.31L897.2 480.93L900.67 479.95L910.38 479.68L913.85 478.57L917.6 479.95L921.07 479.54L924.54 477.59L928.01 478.15L937.44 477.87L940.91 477.87L944.1 473.43L948.13 461.5L951.6 444.15L961.03 481.62L967.69 480.37L971.16 481.06L974.63 480.93L978.1 480.93L981.85 480.93" fill="none" stroke="#da0000" stroke-width="0.6" stroke-opacity="0.75"/>
<path d="M133.41 489.55L134.71 488.25L136.01 489.55L134.71 490.85ZM136.88 488.85L138.18 487.55L139.48 488.85L138.18 490.15ZM140.63 487.19L141.93 485.89L143.23 487.19L141.93 488.49ZM144.24 487.47L145.54 486.17L146.84 487.47L145.54 488.77ZM147.57 488.16L148.87 486.86L150.17 488.16L148.87 489.46ZM151.04 490.66L152.34 489.36L153.64 490.66L152.34 491.96ZM154.50 489.27L155.80 487.97L157.10 489.27L155.80 490.57ZM158.11 486.08L159.41 484.78L160.71 486.08L159.41 487.38ZM161.58 484.97L162.88 483.67L164.18 484.97L162.88 486.27ZM165.05 483.72L166.35 482.42L167.65 483.72L166.35 485.02ZM168.38 483.02L169.68 481.72L170.98 483.02L169.68 484.32ZM171.99 483.30L173.29 482.00L174.59 483.30L173.29 484.60ZM175.60 483.58L176.90 482.28L178.20 483.58L176.90 484.88ZM179.20 482.61L180.50 481.31L181.80 482.61L180.50 483.91ZM182.67 484.00L183.97 482.70L185.27 484.00L183.97 485.30ZM186.14 483.72L187.44 482.42L188.74 483.72L187.44 485.02ZM189.75 483.30L191.05 482.00L192.35 483.30L191.05 484.60ZM192.80 483.30L194.10 482.00L195.40 483.30L194.10 484.60ZM196.83 482.89L198.13 481.59L199.43 482.89L198.13 484.19ZM200.30 483.30L201.60 482.00L202.90 483.30L201.60 484.60ZM203.76 482.19L205.06 480.89L206.36 482.19L205.06 483.49ZM207.10 483.30L208.40 482.00L209.70 483.30L208.40 484.60ZM210.56 484.69L211.86 483.39L213.16 484.69L211.86 485.99ZM214.31 483.58L215.61 482.28L216.91 483.58L215.61 484.88ZM217.78 482.61L219.08 481.31L220.38 482.61L219.08 483.91ZM221.25 483.30L222.55 482.00L223.85 483.30L222.55 484.60ZM224.72 484.00L226.02 482.70L227.32 484.00L226.02 485.30ZM228.19 482.61L229.49 481.31L230.79 482.61L229.49 483.91ZM231.66 482.61L232.96 481.31L234.26 482.61L232.96 483.91ZM235.12 482.61L236.42 481.31L237.72 482.61L236.42 483.91ZM238.87 482.89L240.17 481.59L241.47 482.89L240.17 484.19ZM242.34 482.61L243.64 481.31L244.94 482.61L243.64 483.91ZM245.53 482.89L246.83 481.59L248.13 482.89L246.83 484.19ZM249.00 482.61L250.30 481.31L251.60 482.61L250.30 483.91ZM252.75 483.30L254.05 482.00L255.35 483.30L254.05 484.60ZM256.22 482.19L257.52 480.89L258.82 482.19L257.52 483.49ZM259.69 481.91L260.99 480.61L262.29 481.91L260.99 483.21ZM263.15 481.91L264.45 480.61L265.75 481.91L264.45 483.21ZM266.62 482.19L267.92 480.89L269.22 482.19L267.92 483.49ZM270.09 482.89L271.39 481.59L272.69 482.89L271.39 484.19ZM273.28 481.22L274.58 479.92L275.88 481.22L274.58 482.52ZM277.17 479.56L278.47 478.26L279.77 479.56L278.47 480.86ZM280.64 480.25L281.94 478.95L283.24 480.25L281.94 481.55ZM284.11 479.83L285.41 478.53L286.71 479.83L285.41 481.13ZM287.58 478.17L288.88 476.87L290.18 478.17L288.88 479.47ZM291.05 479.83L292.35 478.53L293.65 479.83L292.35 481.13ZM294.51 479.56L295.81 478.26L297.11 479.56L295.81 480.86ZM297.98 480.53L299.28 479.23L300.58 480.53L299.28 481.83ZM301.45 481.64L302.75 480.34L304.05 481.64L302.75 482.94ZM304.92 481.22L306.22 479.92L307.52 481.22L306.22 482.52ZM308.39 480.25L309.69 478.95L310.99 480.25L309.69 481.55ZM311.86 480.25L313.16 478.95L314.46 480.25L313.16 481.55ZM315.33 479.83L316.63 478.53L317.93 479.83L316.63 481.13ZM318.80 479.14L320.10 477.84L321.40 479.14L320.10 480.44ZM322.27 479.56L323.57 478.26L324.87 479.56L323.57 480.86ZM326.01 480.53L327.31 479.23L328.61 480.53L327.31 481.83ZM329.20 482.61L330.50 481.31L331.80 482.61L330.50 483.91ZM332.95 483.30L334.25 482.00L335.55 483.30L334.25 484.60ZM336.42 484.00L337.72 482.70L339.02 484.00L337.72 485.30ZM339.89 484.27L341.19 482.97L342.49 484.27L341.19 485.57ZM343.36 484.00L344.66 482.70L345.96 484.00L344.66 485.30ZM346.83 484.00L348.13 482.70L349.43 484.00L348.13 485.30ZM350.43 484.27L351.73 482.97L353.03 484.27L351.73 485.57ZM353.90 484.00L355.20 482.70L356.50 484.00L355.20 485.30ZM357.37 483.72L358.67 482.42L359.97 483.72L358.67 485.02ZM360.70 484.69L362.00 483.39L363.30 484.69L362.00 485.99ZM364.59 484.00L365.89 482.70L367.19 484.00L365.89 485.30ZM368.06 484.97L369.36 483.67L370.66 484.97L369.36 486.27ZM371.53 485.38L372.83 484.08L374.13 485.38L372.83 486.68ZM375.00 485.66L376.30 484.36L377.60 485.66L376.30 486.96ZM378.46 485.80L379.76 484.50L381.06 485.80L379.76 487.10ZM382.35 486.08L383.65 484.78L384.95 486.08L383.65 487.38ZM385.54 485.38L386.84 484.08L388.14 485.38L386.84 486.68ZM389.01 484.97L390.31 483.67L391.61 484.97L390.31 486.27ZM392.62 485.38L393.92 484.08L395.22 485.38L393.92 486.68ZM395.81 486.49L397.11 485.19L398.41 486.49L397.11 487.79ZM399.28 487.19L400.58 485.89L401.88 487.19L400.58 488.49ZM403.02 487.88L404.32 486.58L405.62 487.88L404.32 489.18ZM406.49 488.16L407.79 486.86L409.09 488.16L407.79 489.46ZM409.96 487.74L411.26 486.44L412.56 487.74L411.26 489.04ZM413.43 486.49L414.73 485.19L416.03 486.49L414.73 487.79ZM416.90 486.08L418.20 484.78L419.50 486.08L418.20 487.38ZM420.51 485.11L421.81 483.81L423.11 485.11L421.81 486.41ZM423.56 486.77L424.86 485.47L426.16 486.77L424.86 488.07ZM427.17 487.19L428.47 485.89L429.77 487.19L428.47 488.49ZM430.64 488.85L431.94 487.55L433.24 488.85L431.94 490.15ZM434.11 487.88L435.41 486.58L436.71 487.88L435.41 489.18ZM437.99 487.88L439.29 486.58L440.59 487.88L439.29 489.18ZM441.46 487.19L442.76 485.89L444.06 487.19L442.76 488.49ZM444.93 487.88L446.23 486.58L447.53 487.88L446.23 489.18ZM448.40 487.19L449.70 485.89L451.00 487.19L449.70 488.49ZM451.87 487.47L453.17 486.17L454.47 487.47L453.17 488.77ZM455.34 486.77L456.64 485.47L457.94 486.77L456.64 488.07ZM458.81 487.74L460.11 486.44L461.41 487.74L460.11 489.04ZM462.55 487.19L463.85 485.89L465.15 487.19L463.85 488.49ZM465.74 486.36L467.04 485.06L468.34 486.36L467.04 487.66ZM469.21 484.69L470.51 483.39L471.81 484.69L470.51 485.99ZM472.54 485.66L473.84 484.36L475.14 485.66L473.84 486.96ZM476.43 486.77L477.73 485.47L479.03 486.77L477.73 488.07ZM479.90 485.38L481.20 484.08L482.50 485.38L481.20 486.68ZM483.37 485.11L484.67 483.81L485.97 485.11L484.67 486.41ZM486.56 483.72L487.86 482.42L489.16 483.72L487.86 485.02ZM490.03 481.91L491.33 480.61L492.63 481.91L491.33 483.21ZM494.05 482.19L495.35 480.89L496.65 482.19L495.35 483.49ZM497.52 482.61L498.82 481.31L500.12 482.61L498.82 483.91ZM500.71 481.64L502.01 480.34L503.31 481.64L502.01 482.94ZM504.18 480.53L505.48 479.23L506.78 480.53L505.48 481.83ZM507.65 479.83L508.95 478.53L510.25 479.83L508.95 481.13ZM511.40 479.14L512.70 477.84L514.00 479.14L512.70 480.44ZM514.87 479.83L516.17 478.53L517.47 479.83L516.17 481.13ZM518.33 481.50L519.63 480.20L520.93 481.50L519.63 482.80ZM521.80 481.64L523.10 480.34L524.40 481.64L523.10 482.94ZM525.00 480.80L526.30 479.50L527.60 480.80L526.30 482.10ZM528.74 482.61L530.04 481.31L531.34 482.61L530.04 483.91ZM532.35 483.72L533.65 482.42L534.95 483.72L533.65 485.02ZM535.82 484.27L537.12 482.97L538.42 484.27L537.12 485.57ZM539.15 484.69L540.45 483.39L541.75 484.69L540.45 485.99ZM547.47 484.97L548.77 483.67L550.07 484.97L548.77 486.27ZM550.94 484.69L552.24 483.39L553.54 484.69L552.24 485.99ZM554.55 483.72L555.85 482.42L557.15 483.72L555.85 485.02ZM558.02 483.72L559.32 482.42L560.62 483.72L559.32 485.02ZM561.49 485.66L562.79 484.36L564.09 485.66L562.79 486.96ZM564.96 485.66L566.26 484.36L567.56 485.66L566.26 486.96ZM568.43 485.66L569.73 484.36L571.03 485.66L569.73 486.96ZM571.90 485.66L573.20 484.36L574.50 485.66L573.20 486.96ZM575.50 486.08L576.80 484.78L578.10 486.08L576.80 487.38ZM579.25 484.69L580.55 483.39L581.85 484.69L580.55 485.99ZM582.44 486.49L583.74 485.19L585.04 486.49L583.74 487.79ZM585.91 487.74L587.21 486.44L588.51 487.74L587.21 489.04ZM589.38 486.77L590.68 485.47L591.98 486.77L590.68 488.07ZM593.13 488.85L594.43 487.55L595.73 488.85L594.43 490.15ZM596.60 489.55L597.90 488.25L599.20 489.55L597.90 490.85ZM600.06 490.66L601.36 489.36L602.66 490.66L601.36 491.96ZM603.53 491.35L604.83 490.05L606.13 491.35L604.83 492.65ZM607.00 490.24L608.30 488.94L609.60 490.24L608.30 491.54ZM610.47 489.55L611.77 488.25L613.07 489.55L611.77 490.85ZM614.36 489.96L615.66 488.66L616.96 489.96L615.66 491.26ZM617.69 489.96L618.99 488.66L620.29 489.96L618.99 491.26ZM621.16 491.63L622.46 490.33L623.76 491.63L622.46 492.93ZM624.63 491.91L625.93 490.61L627.23 491.91L625.93 493.21ZM628.09 492.32L629.39 491.02L630.69 492.32L629.39 493.62ZM631.56 493.02L632.86 491.72L634.16 493.02L632.86 494.32ZM635.17 493.02L636.47 491.72L637.77 493.02L636.47 494.32ZM638.64 493.29L639.94 491.99L641.24 493.29L639.94 494.59ZM642.11 492.74L643.41 491.44L644.71 492.74L643.41 494.04ZM645.58 493.29L646.88 491.99L648.18 493.29L646.88 494.59ZM649.32 493.29L650.62 491.99L651.92 493.29L650.62 494.59ZM652.79 495.10L654.09 493.80L655.39 495.10L654.09 496.40ZM656.26 494.40L657.56 493.10L658.86 494.40L657.56 495.70ZM659.73 494.40L661.03 493.10L662.33 494.40L661.03 495.70ZM663.20 493.43L664.50 492.13L665.80 493.43L664.50 494.73ZM666.67 492.74L667.97 491.44L669.27 492.74L667.97 494.04ZM670.14 492.74L671.44 491.44L672.74 492.74L671.44 494.04ZM673.61 492.32L674.91 491.02L676.21 492.32L674.91 493.62ZM677.08 492.32L678.38 491.02L679.68 492.32L678.38 493.62ZM680.55 490.66L681.85 489.36L683.15 490.66L681.85 491.96ZM684.01 491.21L685.31 489.91L686.61 491.21L685.31 492.51ZM687.48 490.66L688.78 489.36L690.08 490.66L688.78 491.96ZM691.23 489.82L692.53 488.52L693.83 489.82L692.53 491.12ZM694.70 489.55L696.00 488.25L697.30 489.55L696.00 490.85ZM698.17 489.13L699.47 487.83L700.77 489.13L699.47 490.43ZM701.36 489.27L702.66 487.97L703.96 489.27L702.66 490.57ZM705.11 488.16L706.41 486.86L707.71 488.16L706.41 489.46ZM708.58 487.05L709.88 485.75L711.18 487.05L709.88 488.35ZM712.04 487.74L713.34 486.44L714.64 487.74L713.34 489.04ZM715.51 488.44L716.81 487.14L718.11 488.44L716.81 489.74ZM718.98 488.16L720.28 486.86L721.58 488.16L720.28 489.46ZM722.45 488.85L723.75 487.55L725.05 488.85L723.75 490.15ZM725.78 487.47L727.08 486.17L728.38 487.47L727.08 488.77ZM729.53 489.13L730.83 487.83L732.13 489.13L730.83 490.43ZM733.00 488.16L734.30 486.86L735.60 488.16L734.30 489.46ZM736.47 488.16L737.77 486.86L739.07 488.16L737.77 489.46ZM739.93 486.08L741.23 484.78L742.53 486.08L741.23 487.38ZM743.40 485.80L744.70 484.50L746.00 485.80L744.70 487.10ZM747.01 486.08L748.31 484.78L749.61 486.08L748.31 487.38ZM750.34 484.00L751.64 482.70L752.94 484.00L751.64 485.30ZM753.81 484.41L755.11 483.11L756.41 484.41L755.11 485.71ZM757.42 482.61L758.72 481.31L760.02 482.61L758.72 483.91ZM761.17 482.61L762.47 481.31L763.77 482.61L762.47 483.91ZM769.49 481.22L770.79 479.92L772.09 481.22L770.79 482.52ZM773.24 481.50L774.54 480.20L775.84 481.50L774.54 482.80ZM776.71 481.91L778.01 480.61L779.31 481.91L778.01 483.21ZM783.78 481.91L785.08 480.61L786.38 481.91L785.08 483.21ZM787.25 482.61L788.55 481.31L789.85 482.61L788.55 483.91ZM791.28 483.02L792.58 481.72L793.88 483.02L792.58 484.32ZM794.75 483.02L796.05 481.72L797.35 483.02L796.05 484.32ZM798.21 482.89L799.51 481.59L800.81 482.89L799.51 484.19ZM801.82 481.91L803.12 480.61L804.42 481.91L803.12 483.21ZM805.29 482.89L806.59 481.59L807.89 482.89L806.59 484.19ZM808.76 481.91L810.06 480.61L811.36 481.91L810.06 483.21ZM812.23 481.91L813.53 480.61L814.83 481.91L813.53 483.21ZM815.98 483.72L817.28 482.42L818.58 483.72L817.28 485.02ZM819.44 482.61L820.74 481.31L822.04 482.61L820.74 483.91ZM822.64 482.61L823.94 481.31L825.24 482.61L823.94 483.91ZM826.38 483.30L827.68 482.00L828.98 483.30L827.68 484.60ZM830.13 485.11L831.43 483.81L832.73 485.11L831.43 486.41ZM833.60 485.66L834.90 484.36L836.20 485.66L834.90 486.96ZM836.79 485.66L838.09 484.36L839.39 485.66L838.09 486.96ZM840.26 487.47L841.56 486.17L842.86 487.47L841.56 488.77ZM843.73 487.47L845.03 486.17L846.33 487.47L845.03 488.77ZM847.20 487.74L848.50 486.44L849.80 487.74L848.50 489.04ZM850.94 488.16L852.24 486.86L853.54 488.16L852.24 489.46ZM854.41 487.47L855.71 486.17L857.01 487.47L855.71 488.77ZM857.88 486.08L859.18 484.78L860.48 486.08L859.18 487.38ZM861.35 487.05L862.65 485.75L863.95 487.05L862.65 488.35ZM864.82 487.05L866.12 485.75L867.42 487.05L866.12 488.35ZM868.43 487.05L869.73 485.75L871.03 487.05L869.73 488.35ZM871.90 486.36L873.20 485.06L874.50 486.36L873.20 487.66ZM882.30 482.73L883.60 481.43L884.90 482.73L883.60 484.03ZM885.49 481.34L886.79 480.04L888.09 481.34L886.79 482.64ZM888.96 482.04L890.26 480.74L891.56 482.04L890.26 483.34ZM892.43 482.31L893.73 481.01L895.03 482.31L893.73 483.61ZM895.90 480.93L897.20 479.63L898.50 480.93L897.20 482.23ZM899.37 479.95L900.67 478.65L901.97 479.95L900.67 481.25ZM909.08 479.68L910.38 478.38L911.68 479.68L910.38 480.98ZM912.55 478.57L913.85 477.27L915.15 478.57L913.85 479.87ZM916.30 479.95L917.60 478.65L918.90 479.95L917.60 481.25ZM919.77 479.54L921.07 478.24L922.37 479.54L921.07 480.84ZM923.24 477.59L924.54 476.29L925.84 477.59L924.54 478.89ZM926.71 478.15L928.01 476.85L929.31 478.15L928.01 479.45ZM936.14 477.87L937.44 476.57L938.74 477.87L937.44 479.17ZM939.61 477.87L940.91 476.57L942.21 477.87L940.91 479.17ZM942.80 473.43L944.10 472.13L945.40 473.43L944.10 474.73ZM946.83 461.50L948.13 460.20L949.43 461.50L948.13 462.80ZM950.30 444.15L951.60 442.85L952.90 444.15L951.60 445.45ZM959.73 481.62L961.03 480.32L962.33 481.62L961.03 482.92ZM966.39 480.37L967.69 479.07L968.99 480.37L967.69 481.67ZM969.86 481.06L971.16 479.76L972.46 481.06L971.16 482.36ZM973.33 480.93L974.63 479.63L975.93 480.93L974.63 482.23ZM976.80 480.93L978.10 479.63L979.40 480.93L978.10 482.23ZM980.55 480.93L981.85 479.63L983.15 480.93L981.85 482.23Z" fill="#da0000" stroke="#da0000" stroke-width="1.65" stroke-linejoin="round"/>
<rect x="458.4" y="318.0" width="139.2" height="137.4" fill="#fff" stroke="#7f7f7f" stroke-width="1"/>
<path d="M465.7 335.5H497.7" stroke="#3a069e" stroke-width="0.6" stroke-opacity="0.75"/>
<path d="M479.70 335.50L481.20 334.00L482.70 335.50L481.20 337.00Z" fill="#3a069e" stroke="#3a069e" stroke-width="1.95" stroke-linejoin="round"/>
<text transform="translate(503.4 344.5) scale(1 1.04)" font-size="25.3" text-anchor="start">430 nm</text>
<path d="M465.7 369.5H497.7" stroke="#0000d2" stroke-width="0.6" stroke-opacity="0.75"/>
<path d="M479.75 369.50L481.20 368.05L482.65 369.50L481.20 370.95Z" fill="#0000d2" stroke="#0000d2" stroke-width="1.95" stroke-linejoin="round"/>
<text transform="translate(503.4 378.5) scale(1 1.04)" font-size="25.3" text-anchor="start">470 nm</text>
<path d="M465.7 403.6H497.7" stroke="#07621a" stroke-width="0.6" stroke-opacity="0.75"/>
<path d="M479.75 403.60L481.20 402.15L482.65 403.60L481.20 405.05Z" fill="#07621a" stroke="#07621a" stroke-width="1.95" stroke-linejoin="round"/>
<text transform="translate(503.4 412.6) scale(1 1.04)" font-size="25.3" text-anchor="start">530 nm</text>
<path d="M465.7 438.1H497.7" stroke="#da0000" stroke-width="0.6" stroke-opacity="0.75"/>
<path d="M479.90 438.10L481.20 436.80L482.50 438.10L481.20 439.40Z" fill="#da0000" stroke="#da0000" stroke-width="1.65" stroke-linejoin="round"/>
<text transform="translate(503.4 447.1) scale(1 1.04)" font-size="25.3" text-anchor="start">660 nm</text>
<text transform="translate(540.1 42.8) scale(1 1.03)" font-size="32" text-anchor="middle" letter-spacing="-0.22">Automated Sun Photometer Optical Depth</text>
<text transform="translate(581.0 716.7) scale(1 1.04)" font-size="30.1" text-anchor="middle">Local Time (23 April 2009)</text>
<text transform="translate(127.44 691.6) scale(1 1.025)" font-size="30" text-anchor="middle">16:19</text>
<text transform="translate(278.19 691.6) scale(1 1.025)" font-size="30" text-anchor="middle">16:26</text>
<text transform="translate(428.94 691.6) scale(1 1.025)" font-size="30" text-anchor="middle">16:33</text>
<text transform="translate(579.69 691.6) scale(1 1.025)" font-size="30" text-anchor="middle">16:40</text>
<text transform="translate(730.44 691.6) scale(1 1.025)" font-size="30" text-anchor="middle">16:47</text>
<text transform="translate(881.19 691.6) scale(1 1.025)" font-size="30" text-anchor="middle">16:55</text>
<text transform="translate(1031.94 691.6) scale(1 1.025)" font-size="30" text-anchor="middle">17:02</text>
<text transform="translate(104.7 648.2) scale(1 1.04)" font-size="30" text-anchor="end">0</text>
<text transform="translate(104.7 552.05) scale(1 1.04)" font-size="30" text-anchor="end">0.1</text>
<text transform="translate(104.7 455.7) scale(1 1.04)" font-size="30" text-anchor="end">0.2</text>
<text transform="translate(104.7 359.9) scale(1 1.04)" font-size="30" text-anchor="end">0.3</text>
<text transform="translate(104.7 263.3) scale(1 1.04)" font-size="30" text-anchor="end">0.4</text>
<text transform="translate(104.7 167.3) scale(1 1.04)" font-size="30" text-anchor="end">0.5</text>
<text transform="translate(104.7 70.83) scale(1 1.04)" font-size="30" text-anchor="end">0.6</text>
<text transform="translate(42.9 349.5) rotate(-90) scale(1 1.04)" font-size="29.6" text-anchor="middle">Optical Depth</text>
<text transform="translate(765.2 596.5) scale(1 1.04)" font-size="28.5" text-anchor="start">Contrail</text>
<path d="M873.7 569.2L936.5 509.4" stroke="#000" stroke-width="1.4" fill="none"/>
<path d="M944.3 502.0L931.1 505.8L939.5 514.0Z" fill="#000"/>
</svg></body></html>
